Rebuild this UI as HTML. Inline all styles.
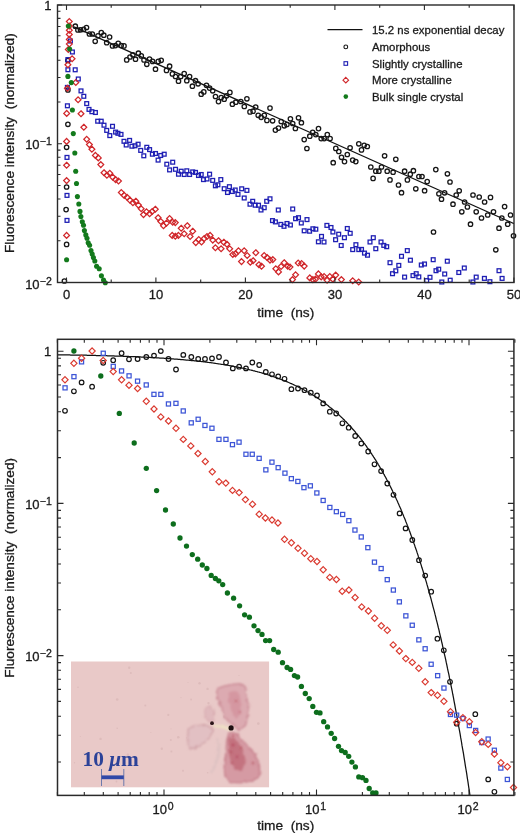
<!DOCTYPE html>
<html><head><meta charset="utf-8"><title>Fluorescence decay</title>
<style>html,body{margin:0;padding:0;background:#fff;}svg{display:block;}</style>
</head><body>
<svg width="520" height="833" viewBox="0 0 520 833">
<defs><clipPath id="ct"><rect x="57.5" y="5.0" width="456.5" height="277.5"/></clipPath>
<clipPath id="cb"><rect x="57.5" y="339.3" width="456.4" height="456.09999999999997"/></clipPath>
<filter id="bl1" x="-20%" y="-20%" width="140%" height="140%"><feGaussianBlur stdDeviation="1.2"/></filter>
<filter id="bl2" x="-20%" y="-20%" width="140%" height="140%"><feGaussianBlur stdDeviation="2.2"/></filter>
<filter id="rag" x="-10%" y="-10%" width="120%" height="120%"><feTurbulence type="fractalNoise" baseFrequency="0.25" numOctaves="2" seed="4" result="n"/><feDisplacementMap in="SourceGraphic" in2="n" scale="3.5" xChannelSelector="R" yChannelSelector="G" result="d"/><feGaussianBlur in="d" stdDeviation="1.1"/></filter>
<filter id="bl05"><feGaussianBlur stdDeviation="0.8"/></filter>
</defs>
<rect width="520" height="833" fill="#fff"/>
<g clip-path="url(#ct)">
<line x1="74" y1="26.9" x2="514" y2="223.6" stroke="#111" stroke-width="1.2"/>
</g><g>
<circle cx="67.9" cy="60.5" r="2.2" fill="none" stroke="#161616" stroke-width="1.3"/>
<circle cx="67.9" cy="90" r="2.2" fill="none" stroke="#161616" stroke-width="1.3"/>
<circle cx="67.9" cy="124.3" r="2.2" fill="none" stroke="#161616" stroke-width="1.3"/>
<circle cx="66.6" cy="147.3" r="2.2" fill="none" stroke="#161616" stroke-width="1.3"/>
<circle cx="66.6" cy="187" r="2.2" fill="none" stroke="#161616" stroke-width="1.3"/>
<circle cx="66.1" cy="209.6" r="2.2" fill="none" stroke="#161616" stroke-width="1.3"/>
<circle cx="66.6" cy="244.4" r="2.2" fill="none" stroke="#161616" stroke-width="1.3"/>
<circle cx="64.4" cy="281" r="2.2" fill="none" stroke="#161616" stroke-width="1.3"/>
<circle cx="75.3" cy="26.2" r="2.2" fill="none" stroke="#161616" stroke-width="1.3"/>
<circle cx="77.9" cy="30" r="2.2" fill="none" stroke="#161616" stroke-width="1.3"/>
<circle cx="80.5" cy="29.8" r="2.2" fill="none" stroke="#161616" stroke-width="1.3"/>
<circle cx="83.6" cy="29.4" r="2.2" fill="none" stroke="#161616" stroke-width="1.3"/>
<circle cx="86.5" cy="27.5" r="2.2" fill="none" stroke="#161616" stroke-width="1.3"/>
<circle cx="89.4" cy="34" r="2.2" fill="none" stroke="#161616" stroke-width="1.3"/>
<circle cx="92.3" cy="34" r="2.2" fill="none" stroke="#161616" stroke-width="1.3"/>
<circle cx="95.2" cy="41.3" r="2.2" fill="none" stroke="#161616" stroke-width="1.3"/>
<circle cx="98" cy="35.8" r="2.2" fill="none" stroke="#161616" stroke-width="1.3"/>
<circle cx="101.3" cy="32.5" r="2.2" fill="none" stroke="#161616" stroke-width="1.3"/>
<circle cx="103.8" cy="35.2" r="2.2" fill="none" stroke="#161616" stroke-width="1.3"/>
<circle cx="106.7" cy="42.7" r="2.2" fill="none" stroke="#161616" stroke-width="1.3"/>
<circle cx="109.6" cy="37" r="2.2" fill="none" stroke="#161616" stroke-width="1.3"/>
<circle cx="112.5" cy="46" r="2.2" fill="none" stroke="#161616" stroke-width="1.3"/>
<circle cx="115.4" cy="45.6" r="2.2" fill="none" stroke="#161616" stroke-width="1.3"/>
<circle cx="118.2" cy="43.3" r="2.2" fill="none" stroke="#161616" stroke-width="1.3"/>
<circle cx="121.2" cy="45.5" r="2.2" fill="none" stroke="#161616" stroke-width="1.3"/>
<circle cx="124" cy="45.9" r="2.2" fill="none" stroke="#161616" stroke-width="1.3"/>
<circle cx="126.7" cy="59.9" r="2.2" fill="none" stroke="#161616" stroke-width="1.3"/>
<circle cx="130" cy="57" r="2.2" fill="none" stroke="#161616" stroke-width="1.3"/>
<circle cx="132.9" cy="54.8" r="2.2" fill="none" stroke="#161616" stroke-width="1.3"/>
<circle cx="135.5" cy="59.2" r="2.2" fill="none" stroke="#161616" stroke-width="1.3"/>
<circle cx="138.4" cy="53.2" r="2.2" fill="none" stroke="#161616" stroke-width="1.3"/>
<circle cx="141.3" cy="55.9" r="2.2" fill="none" stroke="#161616" stroke-width="1.3"/>
<circle cx="144" cy="59.9" r="2.2" fill="none" stroke="#161616" stroke-width="1.3"/>
<circle cx="146.8" cy="64.3" r="2.2" fill="none" stroke="#161616" stroke-width="1.3"/>
<circle cx="149.5" cy="59" r="2.2" fill="none" stroke="#161616" stroke-width="1.3"/>
<circle cx="152.6" cy="61.4" r="2.2" fill="none" stroke="#161616" stroke-width="1.3"/>
<circle cx="155.5" cy="69.2" r="2.2" fill="none" stroke="#161616" stroke-width="1.3"/>
<circle cx="158.3" cy="61.4" r="2.2" fill="none" stroke="#161616" stroke-width="1.3"/>
<circle cx="161.2" cy="60.3" r="2.2" fill="none" stroke="#161616" stroke-width="1.3"/>
<circle cx="166.5" cy="70.4" r="2.2" fill="none" stroke="#161616" stroke-width="1.3"/>
<circle cx="169.6" cy="66.2" r="2.2" fill="none" stroke="#161616" stroke-width="1.3"/>
<circle cx="172.4" cy="73.9" r="2.2" fill="none" stroke="#161616" stroke-width="1.3"/>
<circle cx="175.5" cy="76.5" r="2.2" fill="none" stroke="#161616" stroke-width="1.3"/>
<circle cx="178.5" cy="81.2" r="2.2" fill="none" stroke="#161616" stroke-width="1.3"/>
<circle cx="180.7" cy="76.5" r="2.2" fill="none" stroke="#161616" stroke-width="1.3"/>
<circle cx="184.2" cy="73.5" r="2.2" fill="none" stroke="#161616" stroke-width="1.3"/>
<circle cx="186.8" cy="80.7" r="2.2" fill="none" stroke="#161616" stroke-width="1.3"/>
<circle cx="189.6" cy="76.5" r="2.2" fill="none" stroke="#161616" stroke-width="1.3"/>
<circle cx="192.4" cy="86.2" r="2.2" fill="none" stroke="#161616" stroke-width="1.3"/>
<circle cx="195.5" cy="80.7" r="2.2" fill="none" stroke="#161616" stroke-width="1.3"/>
<circle cx="198.1" cy="83.8" r="2.2" fill="none" stroke="#161616" stroke-width="1.3"/>
<circle cx="201.2" cy="94.2" r="2.2" fill="none" stroke="#161616" stroke-width="1.3"/>
<circle cx="203.8" cy="91.9" r="2.2" fill="none" stroke="#161616" stroke-width="1.3"/>
<circle cx="206.5" cy="85.3" r="2.2" fill="none" stroke="#161616" stroke-width="1.3"/>
<circle cx="209.6" cy="88.1" r="2.2" fill="none" stroke="#161616" stroke-width="1.3"/>
<circle cx="212.7" cy="90.8" r="2.2" fill="none" stroke="#161616" stroke-width="1.3"/>
<circle cx="215.5" cy="96.5" r="2.2" fill="none" stroke="#161616" stroke-width="1.3"/>
<circle cx="218.5" cy="101.6" r="2.2" fill="none" stroke="#161616" stroke-width="1.3"/>
<circle cx="221.2" cy="97.6" r="2.2" fill="none" stroke="#161616" stroke-width="1.3"/>
<circle cx="224.2" cy="99.2" r="2.2" fill="none" stroke="#161616" stroke-width="1.3"/>
<circle cx="226.5" cy="95.8" r="2.2" fill="none" stroke="#161616" stroke-width="1.3"/>
<circle cx="229.9" cy="92.4" r="2.2" fill="none" stroke="#161616" stroke-width="1.3"/>
<circle cx="232.4" cy="104.2" r="2.2" fill="none" stroke="#161616" stroke-width="1.3"/>
<circle cx="235.8" cy="102.2" r="2.2" fill="none" stroke="#161616" stroke-width="1.3"/>
<circle cx="240.8" cy="101.5" r="2.2" fill="none" stroke="#161616" stroke-width="1.3"/>
<circle cx="244.3" cy="106.5" r="2.2" fill="none" stroke="#161616" stroke-width="1.3"/>
<circle cx="246.9" cy="98.8" r="2.2" fill="none" stroke="#161616" stroke-width="1.3"/>
<circle cx="250" cy="111.9" r="2.2" fill="none" stroke="#161616" stroke-width="1.3"/>
<circle cx="253.1" cy="111.2" r="2.2" fill="none" stroke="#161616" stroke-width="1.3"/>
<circle cx="255.7" cy="107" r="2.2" fill="none" stroke="#161616" stroke-width="1.3"/>
<circle cx="258.2" cy="115.3" r="2.2" fill="none" stroke="#161616" stroke-width="1.3"/>
<circle cx="261.2" cy="117.3" r="2.2" fill="none" stroke="#161616" stroke-width="1.3"/>
<circle cx="264.3" cy="115.3" r="2.2" fill="none" stroke="#161616" stroke-width="1.3"/>
<circle cx="266.9" cy="120.4" r="2.2" fill="none" stroke="#161616" stroke-width="1.3"/>
<circle cx="270" cy="108.1" r="2.2" fill="none" stroke="#161616" stroke-width="1.3"/>
<circle cx="272.6" cy="120.8" r="2.2" fill="none" stroke="#161616" stroke-width="1.3"/>
<circle cx="275.4" cy="130.1" r="2.2" fill="none" stroke="#161616" stroke-width="1.3"/>
<circle cx="278.5" cy="128.1" r="2.2" fill="none" stroke="#161616" stroke-width="1.3"/>
<circle cx="281.2" cy="121.5" r="2.2" fill="none" stroke="#161616" stroke-width="1.3"/>
<circle cx="284.3" cy="125.8" r="2.2" fill="none" stroke="#161616" stroke-width="1.3"/>
<circle cx="286.9" cy="124.5" r="2.2" fill="none" stroke="#161616" stroke-width="1.3"/>
<circle cx="290.4" cy="118.8" r="2.2" fill="none" stroke="#161616" stroke-width="1.3"/>
<circle cx="292.7" cy="123.5" r="2.2" fill="none" stroke="#161616" stroke-width="1.3"/>
<circle cx="295.4" cy="128.5" r="2.2" fill="none" stroke="#161616" stroke-width="1.3"/>
<circle cx="298.5" cy="117.8" r="2.2" fill="none" stroke="#161616" stroke-width="1.3"/>
<circle cx="301.4" cy="122.7" r="2.2" fill="none" stroke="#161616" stroke-width="1.3"/>
<circle cx="304.2" cy="139.6" r="2.2" fill="none" stroke="#161616" stroke-width="1.3"/>
<circle cx="306.9" cy="148.5" r="2.2" fill="none" stroke="#161616" stroke-width="1.3"/>
<circle cx="309.8" cy="136.2" r="2.2" fill="none" stroke="#161616" stroke-width="1.3"/>
<circle cx="312.7" cy="132.3" r="2.2" fill="none" stroke="#161616" stroke-width="1.3"/>
<circle cx="315.8" cy="134.6" r="2.2" fill="none" stroke="#161616" stroke-width="1.3"/>
<circle cx="318.5" cy="128.6" r="2.2" fill="none" stroke="#161616" stroke-width="1.3"/>
<circle cx="321.2" cy="138.6" r="2.2" fill="none" stroke="#161616" stroke-width="1.3"/>
<circle cx="324.2" cy="138.6" r="2.2" fill="none" stroke="#161616" stroke-width="1.3"/>
<circle cx="327.3" cy="134.6" r="2.2" fill="none" stroke="#161616" stroke-width="1.3"/>
<circle cx="330.1" cy="138.5" r="2.2" fill="none" stroke="#161616" stroke-width="1.3"/>
<circle cx="333.2" cy="162.7" r="2.2" fill="none" stroke="#161616" stroke-width="1.3"/>
<circle cx="335.8" cy="148.4" r="2.2" fill="none" stroke="#161616" stroke-width="1.3"/>
<circle cx="338.8" cy="151.5" r="2.2" fill="none" stroke="#161616" stroke-width="1.3"/>
<circle cx="341.5" cy="157.3" r="2.2" fill="none" stroke="#161616" stroke-width="1.3"/>
<circle cx="344.5" cy="161.6" r="2.2" fill="none" stroke="#161616" stroke-width="1.3"/>
<circle cx="347.3" cy="154.5" r="2.2" fill="none" stroke="#161616" stroke-width="1.3"/>
<circle cx="350.1" cy="147.8" r="2.2" fill="none" stroke="#161616" stroke-width="1.3"/>
<circle cx="352.7" cy="160.1" r="2.2" fill="none" stroke="#161616" stroke-width="1.3"/>
<circle cx="355.8" cy="161.6" r="2.2" fill="none" stroke="#161616" stroke-width="1.3"/>
<circle cx="358.8" cy="143.8" r="2.2" fill="none" stroke="#161616" stroke-width="1.3"/>
<circle cx="361.5" cy="149.9" r="2.2" fill="none" stroke="#161616" stroke-width="1.3"/>
<circle cx="364.2" cy="145.3" r="2.2" fill="none" stroke="#161616" stroke-width="1.3"/>
<circle cx="367.3" cy="146.5" r="2.2" fill="none" stroke="#161616" stroke-width="1.3"/>
<circle cx="370.8" cy="167" r="2.2" fill="none" stroke="#161616" stroke-width="1.3"/>
<circle cx="373.1" cy="178.4" r="2.2" fill="none" stroke="#161616" stroke-width="1.3"/>
<circle cx="375.8" cy="171.2" r="2.2" fill="none" stroke="#161616" stroke-width="1.3"/>
<circle cx="378.9" cy="171.2" r="2.2" fill="none" stroke="#161616" stroke-width="1.3"/>
<circle cx="381.5" cy="167" r="2.2" fill="none" stroke="#161616" stroke-width="1.3"/>
<circle cx="384.6" cy="155.8" r="2.2" fill="none" stroke="#161616" stroke-width="1.3"/>
<circle cx="387.2" cy="171.2" r="2.2" fill="none" stroke="#161616" stroke-width="1.3"/>
<circle cx="390" cy="179.9" r="2.2" fill="none" stroke="#161616" stroke-width="1.3"/>
<circle cx="393.1" cy="172.2" r="2.2" fill="none" stroke="#161616" stroke-width="1.3"/>
<circle cx="395.8" cy="159.3" r="2.2" fill="none" stroke="#161616" stroke-width="1.3"/>
<circle cx="398.5" cy="185" r="2.2" fill="none" stroke="#161616" stroke-width="1.3"/>
<circle cx="401.5" cy="192.7" r="2.2" fill="none" stroke="#161616" stroke-width="1.3"/>
<circle cx="404.6" cy="171.2" r="2.2" fill="none" stroke="#161616" stroke-width="1.3"/>
<circle cx="407.4" cy="179.9" r="2.2" fill="none" stroke="#161616" stroke-width="1.3"/>
<circle cx="410.3" cy="174.2" r="2.2" fill="none" stroke="#161616" stroke-width="1.3"/>
<circle cx="413.4" cy="170.7" r="2.2" fill="none" stroke="#161616" stroke-width="1.3"/>
<circle cx="415.8" cy="188.8" r="2.2" fill="none" stroke="#161616" stroke-width="1.3"/>
<circle cx="418.9" cy="176.5" r="2.2" fill="none" stroke="#161616" stroke-width="1.3"/>
<circle cx="422" cy="176.5" r="2.2" fill="none" stroke="#161616" stroke-width="1.3"/>
<circle cx="424.6" cy="190.7" r="2.2" fill="none" stroke="#161616" stroke-width="1.3"/>
<circle cx="427.2" cy="181.5" r="2.2" fill="none" stroke="#161616" stroke-width="1.3"/>
<circle cx="433.5" cy="232" r="2.2" fill="none" stroke="#161616" stroke-width="1.3"/>
<circle cx="435.8" cy="169.6" r="2.2" fill="none" stroke="#161616" stroke-width="1.3"/>
<circle cx="438.9" cy="193.8" r="2.2" fill="none" stroke="#161616" stroke-width="1.3"/>
<circle cx="441.5" cy="199.2" r="2.2" fill="none" stroke="#161616" stroke-width="1.3"/>
<circle cx="444.6" cy="192.8" r="2.2" fill="none" stroke="#161616" stroke-width="1.3"/>
<circle cx="447.4" cy="173.8" r="2.2" fill="none" stroke="#161616" stroke-width="1.3"/>
<circle cx="450" cy="182" r="2.2" fill="none" stroke="#161616" stroke-width="1.3"/>
<circle cx="453" cy="204.2" r="2.2" fill="none" stroke="#161616" stroke-width="1.3"/>
<circle cx="456.2" cy="195" r="2.2" fill="none" stroke="#161616" stroke-width="1.3"/>
<circle cx="459.2" cy="190.8" r="2.2" fill="none" stroke="#161616" stroke-width="1.3"/>
<circle cx="461.8" cy="211.8" r="2.2" fill="none" stroke="#161616" stroke-width="1.3"/>
<circle cx="464.6" cy="202" r="2.2" fill="none" stroke="#161616" stroke-width="1.3"/>
<circle cx="467.4" cy="207" r="2.2" fill="none" stroke="#161616" stroke-width="1.3"/>
<circle cx="470.5" cy="224.2" r="2.2" fill="none" stroke="#161616" stroke-width="1.3"/>
<circle cx="473" cy="195" r="2.2" fill="none" stroke="#161616" stroke-width="1.3"/>
<circle cx="476.2" cy="211.8" r="2.2" fill="none" stroke="#161616" stroke-width="1.3"/>
<circle cx="479.2" cy="197" r="2.2" fill="none" stroke="#161616" stroke-width="1.3"/>
<circle cx="481.5" cy="218" r="2.2" fill="none" stroke="#161616" stroke-width="1.3"/>
<circle cx="484.6" cy="202" r="2.2" fill="none" stroke="#161616" stroke-width="1.3"/>
<circle cx="487.7" cy="215" r="2.2" fill="none" stroke="#161616" stroke-width="1.3"/>
<circle cx="490.5" cy="197.4" r="2.2" fill="none" stroke="#161616" stroke-width="1.3"/>
<circle cx="493.5" cy="211.8" r="2.2" fill="none" stroke="#161616" stroke-width="1.3"/>
<circle cx="495.8" cy="249.8" r="2.2" fill="none" stroke="#161616" stroke-width="1.3"/>
<circle cx="499" cy="228.2" r="2.2" fill="none" stroke="#161616" stroke-width="1.3"/>
<circle cx="501.8" cy="218" r="2.2" fill="none" stroke="#161616" stroke-width="1.3"/>
<circle cx="504.6" cy="206.6" r="2.2" fill="none" stroke="#161616" stroke-width="1.3"/>
<circle cx="507.7" cy="224.2" r="2.2" fill="none" stroke="#161616" stroke-width="1.3"/>
<circle cx="510.5" cy="215" r="2.2" fill="none" stroke="#161616" stroke-width="1.3"/>
<circle cx="513.5" cy="235.8" r="2.2" fill="none" stroke="#161616" stroke-width="1.3"/>
<rect x="68.5" y="39.1" width="3.8" height="3.8" fill="none" stroke="#1f1fb4" stroke-width="1.3"/>
<rect x="70.5" y="50.1" width="3.8" height="3.8" fill="none" stroke="#1f1fb4" stroke-width="1.3"/>
<rect x="66" y="57.7" width="3.8" height="3.8" fill="none" stroke="#1f1fb4" stroke-width="1.3"/>
<rect x="66" y="67.8" width="3.8" height="3.8" fill="none" stroke="#1f1fb4" stroke-width="1.3"/>
<rect x="65.5" y="85.5" width="3.8" height="3.8" fill="none" stroke="#1f1fb4" stroke-width="1.3"/>
<rect x="65.5" y="103.9" width="3.8" height="3.8" fill="none" stroke="#1f1fb4" stroke-width="1.3"/>
<rect x="65.1" y="155.5" width="3.8" height="3.8" fill="none" stroke="#1f1fb4" stroke-width="1.3"/>
<rect x="65.1" y="193.5" width="3.8" height="3.8" fill="none" stroke="#1f1fb4" stroke-width="1.3"/>
<rect x="65.1" y="218.5" width="3.8" height="3.8" fill="none" stroke="#1f1fb4" stroke-width="1.3"/>
<rect x="73.3" y="67.9" width="3.8" height="3.8" fill="none" stroke="#1f1fb4" stroke-width="1.3"/>
<rect x="76.4" y="77.1" width="3.8" height="3.8" fill="none" stroke="#1f1fb4" stroke-width="1.3"/>
<rect x="79.1" y="89" width="3.8" height="3.8" fill="none" stroke="#1f1fb4" stroke-width="1.3"/>
<rect x="81.9" y="94.4" width="3.8" height="3.8" fill="none" stroke="#1f1fb4" stroke-width="1.3"/>
<rect x="84.8" y="101.7" width="3.8" height="3.8" fill="none" stroke="#1f1fb4" stroke-width="1.3"/>
<rect x="87.1" y="107.5" width="3.8" height="3.8" fill="none" stroke="#1f1fb4" stroke-width="1.3"/>
<rect x="90" y="109.8" width="3.8" height="3.8" fill="none" stroke="#1f1fb4" stroke-width="1.3"/>
<rect x="93.5" y="110.6" width="3.8" height="3.8" fill="none" stroke="#1f1fb4" stroke-width="1.3"/>
<rect x="95.8" y="119.3" width="3.8" height="3.8" fill="none" stroke="#1f1fb4" stroke-width="1.3"/>
<rect x="99.3" y="119.3" width="3.8" height="3.8" fill="none" stroke="#1f1fb4" stroke-width="1.3"/>
<rect x="102.1" y="123.3" width="3.8" height="3.8" fill="none" stroke="#1f1fb4" stroke-width="1.3"/>
<rect x="104.8" y="128.5" width="3.8" height="3.8" fill="none" stroke="#1f1fb4" stroke-width="1.3"/>
<rect x="107.9" y="133.7" width="3.8" height="3.8" fill="none" stroke="#1f1fb4" stroke-width="1.3"/>
<rect x="110.6" y="124.4" width="3.8" height="3.8" fill="none" stroke="#1f1fb4" stroke-width="1.3"/>
<rect x="113.7" y="130.2" width="3.8" height="3.8" fill="none" stroke="#1f1fb4" stroke-width="1.3"/>
<rect x="116" y="131.4" width="3.8" height="3.8" fill="none" stroke="#1f1fb4" stroke-width="1.3"/>
<rect x="119.1" y="132.5" width="3.8" height="3.8" fill="none" stroke="#1f1fb4" stroke-width="1.3"/>
<rect x="122.1" y="139.4" width="3.8" height="3.8" fill="none" stroke="#1f1fb4" stroke-width="1.3"/>
<rect x="124.3" y="143.1" width="3.8" height="3.8" fill="none" stroke="#1f1fb4" stroke-width="1.3"/>
<rect x="127.7" y="138.5" width="3.8" height="3.8" fill="none" stroke="#1f1fb4" stroke-width="1.3"/>
<rect x="130" y="144.3" width="3.8" height="3.8" fill="none" stroke="#1f1fb4" stroke-width="1.3"/>
<rect x="133.1" y="143.9" width="3.8" height="3.8" fill="none" stroke="#1f1fb4" stroke-width="1.3"/>
<rect x="136.2" y="142.3" width="3.8" height="3.8" fill="none" stroke="#1f1fb4" stroke-width="1.3"/>
<rect x="138.8" y="148.5" width="3.8" height="3.8" fill="none" stroke="#1f1fb4" stroke-width="1.3"/>
<rect x="141.9" y="153.9" width="3.8" height="3.8" fill="none" stroke="#1f1fb4" stroke-width="1.3"/>
<rect x="144.9" y="145.4" width="3.8" height="3.8" fill="none" stroke="#1f1fb4" stroke-width="1.3"/>
<rect x="147.7" y="147.7" width="3.8" height="3.8" fill="none" stroke="#1f1fb4" stroke-width="1.3"/>
<rect x="150.5" y="152.3" width="3.8" height="3.8" fill="none" stroke="#1f1fb4" stroke-width="1.3"/>
<rect x="153.6" y="151.6" width="3.8" height="3.8" fill="none" stroke="#1f1fb4" stroke-width="1.3"/>
<rect x="156.2" y="158.2" width="3.8" height="3.8" fill="none" stroke="#1f1fb4" stroke-width="1.3"/>
<rect x="158.8" y="153.6" width="3.8" height="3.8" fill="none" stroke="#1f1fb4" stroke-width="1.3"/>
<rect x="162.3" y="152.3" width="3.8" height="3.8" fill="none" stroke="#1f1fb4" stroke-width="1.3"/>
<rect x="164.9" y="162.3" width="3.8" height="3.8" fill="none" stroke="#1f1fb4" stroke-width="1.3"/>
<rect x="167.7" y="168" width="3.8" height="3.8" fill="none" stroke="#1f1fb4" stroke-width="1.3"/>
<rect x="170.8" y="160.3" width="3.8" height="3.8" fill="none" stroke="#1f1fb4" stroke-width="1.3"/>
<rect x="173.6" y="167.4" width="3.8" height="3.8" fill="none" stroke="#1f1fb4" stroke-width="1.3"/>
<rect x="176.6" y="172.3" width="3.8" height="3.8" fill="none" stroke="#1f1fb4" stroke-width="1.3"/>
<rect x="179.3" y="169.3" width="3.8" height="3.8" fill="none" stroke="#1f1fb4" stroke-width="1.3"/>
<rect x="182.3" y="172.6" width="3.8" height="3.8" fill="none" stroke="#1f1fb4" stroke-width="1.3"/>
<rect x="184.9" y="168.9" width="3.8" height="3.8" fill="none" stroke="#1f1fb4" stroke-width="1.3"/>
<rect x="187.7" y="172.6" width="3.8" height="3.8" fill="none" stroke="#1f1fb4" stroke-width="1.3"/>
<rect x="190.8" y="170" width="3.8" height="3.8" fill="none" stroke="#1f1fb4" stroke-width="1.3"/>
<rect x="193.6" y="170.5" width="3.8" height="3.8" fill="none" stroke="#1f1fb4" stroke-width="1.3"/>
<rect x="196.6" y="173.6" width="3.8" height="3.8" fill="none" stroke="#1f1fb4" stroke-width="1.3"/>
<rect x="199.3" y="172.6" width="3.8" height="3.8" fill="none" stroke="#1f1fb4" stroke-width="1.3"/>
<rect x="201.6" y="177.7" width="3.8" height="3.8" fill="none" stroke="#1f1fb4" stroke-width="1.3"/>
<rect x="205.1" y="177.1" width="3.8" height="3.8" fill="none" stroke="#1f1fb4" stroke-width="1.3"/>
<rect x="207.7" y="172.3" width="3.8" height="3.8" fill="none" stroke="#1f1fb4" stroke-width="1.3"/>
<rect x="210.8" y="178.5" width="3.8" height="3.8" fill="none" stroke="#1f1fb4" stroke-width="1.3"/>
<rect x="213.5" y="183.9" width="3.8" height="3.8" fill="none" stroke="#1f1fb4" stroke-width="1.3"/>
<rect x="216" y="182.9" width="3.8" height="3.8" fill="none" stroke="#1f1fb4" stroke-width="1.3"/>
<rect x="218.9" y="177.7" width="3.8" height="3.8" fill="none" stroke="#1f1fb4" stroke-width="1.3"/>
<rect x="222.3" y="186.8" width="3.8" height="3.8" fill="none" stroke="#1f1fb4" stroke-width="1.3"/>
<rect x="225.6" y="190.6" width="3.8" height="3.8" fill="none" stroke="#1f1fb4" stroke-width="1.3"/>
<rect x="227.5" y="184.8" width="3.8" height="3.8" fill="none" stroke="#1f1fb4" stroke-width="1.3"/>
<rect x="230.4" y="189.6" width="3.8" height="3.8" fill="none" stroke="#1f1fb4" stroke-width="1.3"/>
<rect x="233.3" y="188.1" width="3.8" height="3.8" fill="none" stroke="#1f1fb4" stroke-width="1.3"/>
<rect x="236.1" y="192.5" width="3.8" height="3.8" fill="none" stroke="#1f1fb4" stroke-width="1.3"/>
<rect x="239.8" y="186.9" width="3.8" height="3.8" fill="none" stroke="#1f1fb4" stroke-width="1.3"/>
<rect x="242.3" y="196.1" width="3.8" height="3.8" fill="none" stroke="#1f1fb4" stroke-width="1.3"/>
<rect x="245" y="188.5" width="3.8" height="3.8" fill="none" stroke="#1f1fb4" stroke-width="1.3"/>
<rect x="248.1" y="202.3" width="3.8" height="3.8" fill="none" stroke="#1f1fb4" stroke-width="1.3"/>
<rect x="250.8" y="199.4" width="3.8" height="3.8" fill="none" stroke="#1f1fb4" stroke-width="1.3"/>
<rect x="253.3" y="203.3" width="3.8" height="3.8" fill="none" stroke="#1f1fb4" stroke-width="1.3"/>
<rect x="256.6" y="203.3" width="3.8" height="3.8" fill="none" stroke="#1f1fb4" stroke-width="1.3"/>
<rect x="259.1" y="208.1" width="3.8" height="3.8" fill="none" stroke="#1f1fb4" stroke-width="1.3"/>
<rect x="262.3" y="205.8" width="3.8" height="3.8" fill="none" stroke="#1f1fb4" stroke-width="1.3"/>
<rect x="264.8" y="199.4" width="3.8" height="3.8" fill="none" stroke="#1f1fb4" stroke-width="1.3"/>
<rect x="268.1" y="196.9" width="3.8" height="3.8" fill="none" stroke="#1f1fb4" stroke-width="1.3"/>
<rect x="270.6" y="218.7" width="3.8" height="3.8" fill="none" stroke="#1f1fb4" stroke-width="1.3"/>
<rect x="273.5" y="220" width="3.8" height="3.8" fill="none" stroke="#1f1fb4" stroke-width="1.3"/>
<rect x="276.4" y="208.1" width="3.8" height="3.8" fill="none" stroke="#1f1fb4" stroke-width="1.3"/>
<rect x="278.9" y="222.5" width="3.8" height="3.8" fill="none" stroke="#1f1fb4" stroke-width="1.3"/>
<rect x="282.1" y="224.4" width="3.8" height="3.8" fill="none" stroke="#1f1fb4" stroke-width="1.3"/>
<rect x="285.1" y="221.6" width="3.8" height="3.8" fill="none" stroke="#1f1fb4" stroke-width="1.3"/>
<rect x="288.5" y="223.1" width="3.8" height="3.8" fill="none" stroke="#1f1fb4" stroke-width="1.3"/>
<rect x="290.8" y="207.1" width="3.8" height="3.8" fill="none" stroke="#1f1fb4" stroke-width="1.3"/>
<rect x="293.7" y="216.8" width="3.8" height="3.8" fill="none" stroke="#1f1fb4" stroke-width="1.3"/>
<rect x="296.6" y="215.8" width="3.8" height="3.8" fill="none" stroke="#1f1fb4" stroke-width="1.3"/>
<rect x="299.4" y="221.1" width="3.8" height="3.8" fill="none" stroke="#1f1fb4" stroke-width="1.3"/>
<rect x="302.3" y="228.9" width="3.8" height="3.8" fill="none" stroke="#1f1fb4" stroke-width="1.3"/>
<rect x="305.1" y="217.7" width="3.8" height="3.8" fill="none" stroke="#1f1fb4" stroke-width="1.3"/>
<rect x="307.7" y="229.3" width="3.8" height="3.8" fill="none" stroke="#1f1fb4" stroke-width="1.3"/>
<rect x="311" y="226.9" width="3.8" height="3.8" fill="none" stroke="#1f1fb4" stroke-width="1.3"/>
<rect x="313.9" y="227.3" width="3.8" height="3.8" fill="none" stroke="#1f1fb4" stroke-width="1.3"/>
<rect x="316.5" y="239.9" width="3.8" height="3.8" fill="none" stroke="#1f1fb4" stroke-width="1.3"/>
<rect x="319.6" y="234.5" width="3.8" height="3.8" fill="none" stroke="#1f1fb4" stroke-width="1.3"/>
<rect x="322.1" y="240.1" width="3.8" height="3.8" fill="none" stroke="#1f1fb4" stroke-width="1.3"/>
<rect x="325" y="223.5" width="3.8" height="3.8" fill="none" stroke="#1f1fb4" stroke-width="1.3"/>
<rect x="329.1" y="225.6" width="3.8" height="3.8" fill="none" stroke="#1f1fb4" stroke-width="1.3"/>
<rect x="331" y="230.1" width="3.8" height="3.8" fill="none" stroke="#1f1fb4" stroke-width="1.3"/>
<rect x="333.7" y="237.8" width="3.8" height="3.8" fill="none" stroke="#1f1fb4" stroke-width="1.3"/>
<rect x="336.8" y="232.3" width="3.8" height="3.8" fill="none" stroke="#1f1fb4" stroke-width="1.3"/>
<rect x="339.3" y="243.6" width="3.8" height="3.8" fill="none" stroke="#1f1fb4" stroke-width="1.3"/>
<rect x="342.5" y="235.8" width="3.8" height="3.8" fill="none" stroke="#1f1fb4" stroke-width="1.3"/>
<rect x="345.4" y="226.6" width="3.8" height="3.8" fill="none" stroke="#1f1fb4" stroke-width="1.3"/>
<rect x="348.3" y="231.4" width="3.8" height="3.8" fill="none" stroke="#1f1fb4" stroke-width="1.3"/>
<rect x="350.8" y="247.7" width="3.8" height="3.8" fill="none" stroke="#1f1fb4" stroke-width="1.3"/>
<rect x="354" y="242.8" width="3.8" height="3.8" fill="none" stroke="#1f1fb4" stroke-width="1.3"/>
<rect x="356.9" y="247.7" width="3.8" height="3.8" fill="none" stroke="#1f1fb4" stroke-width="1.3"/>
<rect x="359.6" y="247.5" width="3.8" height="3.8" fill="none" stroke="#1f1fb4" stroke-width="1.3"/>
<rect x="362.6" y="251.2" width="3.8" height="3.8" fill="none" stroke="#1f1fb4" stroke-width="1.3"/>
<rect x="365.6" y="253.3" width="3.8" height="3.8" fill="none" stroke="#1f1fb4" stroke-width="1.3"/>
<rect x="368.1" y="240.1" width="3.8" height="3.8" fill="none" stroke="#1f1fb4" stroke-width="1.3"/>
<rect x="371.4" y="235.8" width="3.8" height="3.8" fill="none" stroke="#1f1fb4" stroke-width="1.3"/>
<rect x="373.9" y="246.8" width="3.8" height="3.8" fill="none" stroke="#1f1fb4" stroke-width="1.3"/>
<rect x="379.1" y="240.1" width="3.8" height="3.8" fill="none" stroke="#1f1fb4" stroke-width="1.3"/>
<rect x="381.9" y="243.5" width="3.8" height="3.8" fill="none" stroke="#1f1fb4" stroke-width="1.3"/>
<rect x="384.8" y="244.8" width="3.8" height="3.8" fill="none" stroke="#1f1fb4" stroke-width="1.3"/>
<rect x="388.1" y="260.8" width="3.8" height="3.8" fill="none" stroke="#1f1fb4" stroke-width="1.3"/>
<rect x="390.6" y="271.8" width="3.8" height="3.8" fill="none" stroke="#1f1fb4" stroke-width="1.3"/>
<rect x="393.9" y="268.9" width="3.8" height="3.8" fill="none" stroke="#1f1fb4" stroke-width="1.3"/>
<rect x="396.9" y="263.5" width="3.8" height="3.8" fill="none" stroke="#1f1fb4" stroke-width="1.3"/>
<rect x="399.6" y="254.4" width="3.8" height="3.8" fill="none" stroke="#1f1fb4" stroke-width="1.3"/>
<rect x="402.7" y="275.2" width="3.8" height="3.8" fill="none" stroke="#1f1fb4" stroke-width="1.3"/>
<rect x="405.4" y="248.7" width="3.8" height="3.8" fill="none" stroke="#1f1fb4" stroke-width="1.3"/>
<rect x="408.5" y="258.3" width="3.8" height="3.8" fill="none" stroke="#1f1fb4" stroke-width="1.3"/>
<rect x="411.1" y="273.7" width="3.8" height="3.8" fill="none" stroke="#1f1fb4" stroke-width="1.3"/>
<rect x="414.3" y="271.8" width="3.8" height="3.8" fill="none" stroke="#1f1fb4" stroke-width="1.3"/>
<rect x="416.9" y="275" width="3.8" height="3.8" fill="none" stroke="#1f1fb4" stroke-width="1.3"/>
<rect x="419.4" y="263.1" width="3.8" height="3.8" fill="none" stroke="#1f1fb4" stroke-width="1.3"/>
<rect x="422.6" y="262.1" width="3.8" height="3.8" fill="none" stroke="#1f1fb4" stroke-width="1.3"/>
<rect x="424.8" y="278.7" width="3.8" height="3.8" fill="none" stroke="#1f1fb4" stroke-width="1.3"/>
<rect x="428.1" y="275.4" width="3.8" height="3.8" fill="none" stroke="#1f1fb4" stroke-width="1.3"/>
<rect x="431.3" y="257.8" width="3.8" height="3.8" fill="none" stroke="#1f1fb4" stroke-width="1.3"/>
<rect x="434.1" y="268.8" width="3.8" height="3.8" fill="none" stroke="#1f1fb4" stroke-width="1.3"/>
<rect x="436.8" y="267.3" width="3.8" height="3.8" fill="none" stroke="#1f1fb4" stroke-width="1.3"/>
<rect x="439.9" y="280.1" width="3.8" height="3.8" fill="none" stroke="#1f1fb4" stroke-width="1.3"/>
<rect x="442.8" y="272.1" width="3.8" height="3.8" fill="none" stroke="#1f1fb4" stroke-width="1.3"/>
<rect x="445.4" y="259.3" width="3.8" height="3.8" fill="none" stroke="#1f1fb4" stroke-width="1.3"/>
<rect x="448.3" y="278.3" width="3.8" height="3.8" fill="none" stroke="#1f1fb4" stroke-width="1.3"/>
<rect x="456.9" y="270.6" width="3.8" height="3.8" fill="none" stroke="#1f1fb4" stroke-width="1.3"/>
<rect x="462.4" y="266.1" width="3.8" height="3.8" fill="none" stroke="#1f1fb4" stroke-width="1.3"/>
<rect x="471" y="280.1" width="3.8" height="3.8" fill="none" stroke="#1f1fb4" stroke-width="1.3"/>
<rect x="474.3" y="275.2" width="3.8" height="3.8" fill="none" stroke="#1f1fb4" stroke-width="1.3"/>
<rect x="482.5" y="276.5" width="3.8" height="3.8" fill="none" stroke="#1f1fb4" stroke-width="1.3"/>
<rect x="488" y="279.8" width="3.8" height="3.8" fill="none" stroke="#1f1fb4" stroke-width="1.3"/>
<rect x="497.1" y="268.8" width="3.8" height="3.8" fill="none" stroke="#1f1fb4" stroke-width="1.3"/>
<rect x="500.2" y="276.5" width="3.8" height="3.8" fill="none" stroke="#1f1fb4" stroke-width="1.3"/>
<path d="M69.3 18.6l2.9 2.9l-2.9 2.9l-2.9 -2.9z" fill="none" stroke="#d0262a" stroke-width="1.25"/>
<path d="M69.3 23.1l2.9 2.9l-2.9 2.9l-2.9 -2.9z" fill="none" stroke="#d0262a" stroke-width="1.25"/>
<path d="M69.3 27.3l2.9 2.9l-2.9 2.9l-2.9 -2.9z" fill="none" stroke="#d0262a" stroke-width="1.25"/>
<path d="M69.3 31.5l2.9 2.9l-2.9 2.9l-2.9 -2.9z" fill="none" stroke="#d0262a" stroke-width="1.25"/>
<path d="M69.3 36.5l2.9 2.9l-2.9 2.9l-2.9 -2.9z" fill="none" stroke="#d0262a" stroke-width="1.25"/>
<path d="M69.3 41.1l2.9 2.9l-2.9 2.9l-2.9 -2.9z" fill="none" stroke="#d0262a" stroke-width="1.25"/>
<path d="M68.3 46.6l2.9 2.9l-2.9 2.9l-2.9 -2.9z" fill="none" stroke="#d0262a" stroke-width="1.25"/>
<path d="M67.9 61.8l2.9 2.9l-2.9 2.9l-2.9 -2.9z" fill="none" stroke="#d0262a" stroke-width="1.25"/>
<path d="M67.4 85.3l2.9 2.9l-2.9 2.9l-2.9 -2.9z" fill="none" stroke="#d0262a" stroke-width="1.25"/>
<path d="M66.7 110.5l2.9 2.9l-2.9 2.9l-2.9 -2.9z" fill="none" stroke="#d0262a" stroke-width="1.25"/>
<path d="M66.6 138.5l2.9 2.9l-2.9 2.9l-2.9 -2.9z" fill="none" stroke="#d0262a" stroke-width="1.25"/>
<path d="M66.6 162.3l2.9 2.9l-2.9 2.9l-2.9 -2.9z" fill="none" stroke="#d0262a" stroke-width="1.25"/>
<path d="M66.6 177.7l2.9 2.9l-2.9 2.9l-2.9 -2.9z" fill="none" stroke="#d0262a" stroke-width="1.25"/>
<path d="M66.6 232.5l2.9 2.9l-2.9 2.9l-2.9 -2.9z" fill="none" stroke="#d0262a" stroke-width="1.25"/>
<path d="M72.1 55.9l2.9 2.9l-2.9 2.9l-2.9 -2.9z" fill="none" stroke="#d0262a" stroke-width="1.25"/>
<path d="M75.8 79.6l2.9 2.9l-2.9 2.9l-2.9 -2.9z" fill="none" stroke="#d0262a" stroke-width="1.25"/>
<path d="M78.1 96.9l2.9 2.9l-2.9 2.9l-2.9 -2.9z" fill="none" stroke="#d0262a" stroke-width="1.25"/>
<path d="M81 110.8l2.9 2.9l-2.9 2.9l-2.9 -2.9z" fill="none" stroke="#d0262a" stroke-width="1.25"/>
<path d="M83.8 124.3l2.9 2.9l-2.9 2.9l-2.9 -2.9z" fill="none" stroke="#d0262a" stroke-width="1.25"/>
<path d="M86.7 136.4l2.9 2.9l-2.9 2.9l-2.9 -2.9z" fill="none" stroke="#d0262a" stroke-width="1.25"/>
<path d="M89.4 141.7l2.9 2.9l-2.9 2.9l-2.9 -2.9z" fill="none" stroke="#d0262a" stroke-width="1.25"/>
<path d="M91.9 146.3l2.9 2.9l-2.9 2.9l-2.9 -2.9z" fill="none" stroke="#d0262a" stroke-width="1.25"/>
<path d="M95.4 152.5l2.9 2.9l-2.9 2.9l-2.9 -2.9z" fill="none" stroke="#d0262a" stroke-width="1.25"/>
<path d="M98.3 155l2.9 2.9l-2.9 2.9l-2.9 -2.9z" fill="none" stroke="#d0262a" stroke-width="1.25"/>
<path d="M100.8 161.7l2.9 2.9l-2.9 2.9l-2.9 -2.9z" fill="none" stroke="#d0262a" stroke-width="1.25"/>
<path d="M104 169.8l2.9 2.9l-2.9 2.9l-2.9 -2.9z" fill="none" stroke="#d0262a" stroke-width="1.25"/>
<path d="M106.9 172.3l2.9 2.9l-2.9 2.9l-2.9 -2.9z" fill="none" stroke="#d0262a" stroke-width="1.25"/>
<path d="M109.8 170.4l2.9 2.9l-2.9 2.9l-2.9 -2.9z" fill="none" stroke="#d0262a" stroke-width="1.25"/>
<path d="M112.7 174.2l2.9 2.9l-2.9 2.9l-2.9 -2.9z" fill="none" stroke="#d0262a" stroke-width="1.25"/>
<path d="M115.6 176.7l2.9 2.9l-2.9 2.9l-2.9 -2.9z" fill="none" stroke="#d0262a" stroke-width="1.25"/>
<path d="M118.5 178.1l2.9 2.9l-2.9 2.9l-2.9 -2.9z" fill="none" stroke="#d0262a" stroke-width="1.25"/>
<path d="M121.3 189.6l2.9 2.9l-2.9 2.9l-2.9 -2.9z" fill="none" stroke="#d0262a" stroke-width="1.25"/>
<path d="M124.2 192.5l2.9 2.9l-2.9 2.9l-2.9 -2.9z" fill="none" stroke="#d0262a" stroke-width="1.25"/>
<path d="M127.1 194.4l2.9 2.9l-2.9 2.9l-2.9 -2.9z" fill="none" stroke="#d0262a" stroke-width="1.25"/>
<path d="M130 197.3l2.9 2.9l-2.9 2.9l-2.9 -2.9z" fill="none" stroke="#d0262a" stroke-width="1.25"/>
<path d="M132.9 199.8l2.9 2.9l-2.9 2.9l-2.9 -2.9z" fill="none" stroke="#d0262a" stroke-width="1.25"/>
<path d="M135.8 198.3l2.9 2.9l-2.9 2.9l-2.9 -2.9z" fill="none" stroke="#d0262a" stroke-width="1.25"/>
<path d="M138.4 202.2l2.9 2.9l-2.9 2.9l-2.9 -2.9z" fill="none" stroke="#d0262a" stroke-width="1.25"/>
<path d="M141.2 205.9l2.9 2.9l-2.9 2.9l-2.9 -2.9z" fill="none" stroke="#d0262a" stroke-width="1.25"/>
<path d="M143.5 211.7l2.9 2.9l-2.9 2.9l-2.9 -2.9z" fill="none" stroke="#d0262a" stroke-width="1.25"/>
<path d="M146.5 208.9l2.9 2.9l-2.9 2.9l-2.9 -2.9z" fill="none" stroke="#d0262a" stroke-width="1.25"/>
<path d="M149.6 210.9l2.9 2.9l-2.9 2.9l-2.9 -2.9z" fill="none" stroke="#d0262a" stroke-width="1.25"/>
<path d="M152.2 208.6l2.9 2.9l-2.9 2.9l-2.9 -2.9z" fill="none" stroke="#d0262a" stroke-width="1.25"/>
<path d="M155.3 206.3l2.9 2.9l-2.9 2.9l-2.9 -2.9z" fill="none" stroke="#d0262a" stroke-width="1.25"/>
<path d="M158.1 214.8l2.9 2.9l-2.9 2.9l-2.9 -2.9z" fill="none" stroke="#d0262a" stroke-width="1.25"/>
<path d="M160.8 218.6l2.9 2.9l-2.9 2.9l-2.9 -2.9z" fill="none" stroke="#d0262a" stroke-width="1.25"/>
<path d="M163.5 222.8l2.9 2.9l-2.9 2.9l-2.9 -2.9z" fill="none" stroke="#d0262a" stroke-width="1.25"/>
<path d="M166.5 220.2l2.9 2.9l-2.9 2.9l-2.9 -2.9z" fill="none" stroke="#d0262a" stroke-width="1.25"/>
<path d="M169.6 215.6l2.9 2.9l-2.9 2.9l-2.9 -2.9z" fill="none" stroke="#d0262a" stroke-width="1.25"/>
<path d="M172.7 219.4l2.9 2.9l-2.9 2.9l-2.9 -2.9z" fill="none" stroke="#d0262a" stroke-width="1.25"/>
<path d="M175.3 219.7l2.9 2.9l-2.9 2.9l-2.9 -2.9z" fill="none" stroke="#d0262a" stroke-width="1.25"/>
<path d="M172.2 232.5l2.9 2.9l-2.9 2.9l-2.9 -2.9z" fill="none" stroke="#d0262a" stroke-width="1.25"/>
<path d="M175.3 233.3l2.9 2.9l-2.9 2.9l-2.9 -2.9z" fill="none" stroke="#d0262a" stroke-width="1.25"/>
<path d="M178.4 232.5l2.9 2.9l-2.9 2.9l-2.9 -2.9z" fill="none" stroke="#d0262a" stroke-width="1.25"/>
<path d="M181.2 225.3l2.9 2.9l-2.9 2.9l-2.9 -2.9z" fill="none" stroke="#d0262a" stroke-width="1.25"/>
<path d="M184.2 230.9l2.9 2.9l-2.9 2.9l-2.9 -2.9z" fill="none" stroke="#d0262a" stroke-width="1.25"/>
<path d="M187.3 222.8l2.9 2.9l-2.9 2.9l-2.9 -2.9z" fill="none" stroke="#d0262a" stroke-width="1.25"/>
<path d="M190.1 233.6l2.9 2.9l-2.9 2.9l-2.9 -2.9z" fill="none" stroke="#d0262a" stroke-width="1.25"/>
<path d="M192.7 228.3l2.9 2.9l-2.9 2.9l-2.9 -2.9z" fill="none" stroke="#d0262a" stroke-width="1.25"/>
<path d="M195.8 239.7l2.9 2.9l-2.9 2.9l-2.9 -2.9z" fill="none" stroke="#d0262a" stroke-width="1.25"/>
<path d="M198.8 236.6l2.9 2.9l-2.9 2.9l-2.9 -2.9z" fill="none" stroke="#d0262a" stroke-width="1.25"/>
<path d="M201.5 239.1l2.9 2.9l-2.9 2.9l-2.9 -2.9z" fill="none" stroke="#d0262a" stroke-width="1.25"/>
<path d="M204.2 235.6l2.9 2.9l-2.9 2.9l-2.9 -2.9z" fill="none" stroke="#d0262a" stroke-width="1.25"/>
<path d="M207 233.6l2.9 2.9l-2.9 2.9l-2.9 -2.9z" fill="none" stroke="#d0262a" stroke-width="1.25"/>
<path d="M210.1 232.5l2.9 2.9l-2.9 2.9l-2.9 -2.9z" fill="none" stroke="#d0262a" stroke-width="1.25"/>
<path d="M212.8 237.2l2.9 2.9l-2.9 2.9l-2.9 -2.9z" fill="none" stroke="#d0262a" stroke-width="1.25"/>
<path d="M215.4 244.9l2.9 2.9l-2.9 2.9l-2.9 -2.9z" fill="none" stroke="#d0262a" stroke-width="1.25"/>
<path d="M218.5 237.8l2.9 2.9l-2.9 2.9l-2.9 -2.9z" fill="none" stroke="#d0262a" stroke-width="1.25"/>
<path d="M221.1 245.9l2.9 2.9l-2.9 2.9l-2.9 -2.9z" fill="none" stroke="#d0262a" stroke-width="1.25"/>
<path d="M223.8 239.3l2.9 2.9l-2.9 2.9l-2.9 -2.9z" fill="none" stroke="#d0262a" stroke-width="1.25"/>
<path d="M226.9 241.3l2.9 2.9l-2.9 2.9l-2.9 -2.9z" fill="none" stroke="#d0262a" stroke-width="1.25"/>
<path d="M229.7 245.9l2.9 2.9l-2.9 2.9l-2.9 -2.9z" fill="none" stroke="#d0262a" stroke-width="1.25"/>
<path d="M232.8 251.6l2.9 2.9l-2.9 2.9l-2.9 -2.9z" fill="none" stroke="#d0262a" stroke-width="1.25"/>
<path d="M235.4 251l2.9 2.9l-2.9 2.9l-2.9 -2.9z" fill="none" stroke="#d0262a" stroke-width="1.25"/>
<path d="M238.5 247.9l2.9 2.9l-2.9 2.9l-2.9 -2.9z" fill="none" stroke="#d0262a" stroke-width="1.25"/>
<path d="M241.5 258.7l2.9 2.9l-2.9 2.9l-2.9 -2.9z" fill="none" stroke="#d0262a" stroke-width="1.25"/>
<path d="M244.2 247.9l2.9 2.9l-2.9 2.9l-2.9 -2.9z" fill="none" stroke="#d0262a" stroke-width="1.25"/>
<path d="M247.2 252.6l2.9 2.9l-2.9 2.9l-2.9 -2.9z" fill="none" stroke="#d0262a" stroke-width="1.25"/>
<path d="M250.3 259.3l2.9 2.9l-2.9 2.9l-2.9 -2.9z" fill="none" stroke="#d0262a" stroke-width="1.25"/>
<path d="M253.1 257.8l2.9 2.9l-2.9 2.9l-2.9 -2.9z" fill="none" stroke="#d0262a" stroke-width="1.25"/>
<path d="M255.8 249.8l2.9 2.9l-2.9 2.9l-2.9 -2.9z" fill="none" stroke="#d0262a" stroke-width="1.25"/>
<path d="M258.9 261.8l2.9 2.9l-2.9 2.9l-2.9 -2.9z" fill="none" stroke="#d0262a" stroke-width="1.25"/>
<path d="M261.5 263.3l2.9 2.9l-2.9 2.9l-2.9 -2.9z" fill="none" stroke="#d0262a" stroke-width="1.25"/>
<path d="M264.2 252.6l2.9 2.9l-2.9 2.9l-2.9 -2.9z" fill="none" stroke="#d0262a" stroke-width="1.25"/>
<path d="M267.2 254.7l2.9 2.9l-2.9 2.9l-2.9 -2.9z" fill="none" stroke="#d0262a" stroke-width="1.25"/>
<path d="M270 257.2l2.9 2.9l-2.9 2.9l-2.9 -2.9z" fill="none" stroke="#d0262a" stroke-width="1.25"/>
<path d="M272.8 256.7l2.9 2.9l-2.9 2.9l-2.9 -2.9z" fill="none" stroke="#d0262a" stroke-width="1.25"/>
<path d="M275.8 265.9l2.9 2.9l-2.9 2.9l-2.9 -2.9z" fill="none" stroke="#d0262a" stroke-width="1.25"/>
<path d="M278.5 269l2.9 2.9l-2.9 2.9l-2.9 -2.9z" fill="none" stroke="#d0262a" stroke-width="1.25"/>
<path d="M281.1 263.6l2.9 2.9l-2.9 2.9l-2.9 -2.9z" fill="none" stroke="#d0262a" stroke-width="1.25"/>
<path d="M284.2 259.8l2.9 2.9l-2.9 2.9l-2.9 -2.9z" fill="none" stroke="#d0262a" stroke-width="1.25"/>
<path d="M287.7 263.3l2.9 2.9l-2.9 2.9l-2.9 -2.9z" fill="none" stroke="#d0262a" stroke-width="1.25"/>
<path d="M290 264.1l2.9 2.9l-2.9 2.9l-2.9 -2.9z" fill="none" stroke="#d0262a" stroke-width="1.25"/>
<path d="M292.5 276.7l2.9 2.9l-2.9 2.9l-2.9 -2.9z" fill="none" stroke="#d0262a" stroke-width="1.25"/>
<path d="M295.6 271.9l2.9 2.9l-2.9 2.9l-2.9 -2.9z" fill="none" stroke="#d0262a" stroke-width="1.25"/>
<path d="M298.2 260.1l2.9 2.9l-2.9 2.9l-2.9 -2.9z" fill="none" stroke="#d0262a" stroke-width="1.25"/>
<path d="M301.6 260.6l2.9 2.9l-2.9 2.9l-2.9 -2.9z" fill="none" stroke="#d0262a" stroke-width="1.25"/>
<path d="M304.2 263.2l2.9 2.9l-2.9 2.9l-2.9 -2.9z" fill="none" stroke="#d0262a" stroke-width="1.25"/>
<path d="M309.8 275l2.9 2.9l-2.9 2.9l-2.9 -2.9z" fill="none" stroke="#d0262a" stroke-width="1.25"/>
<path d="M312.9 276.7l2.9 2.9l-2.9 2.9l-2.9 -2.9z" fill="none" stroke="#d0262a" stroke-width="1.25"/>
<path d="M315.5 276.2l2.9 2.9l-2.9 2.9l-2.9 -2.9z" fill="none" stroke="#d0262a" stroke-width="1.25"/>
<path d="M318.4 271l2.9 2.9l-2.9 2.9l-2.9 -2.9z" fill="none" stroke="#d0262a" stroke-width="1.25"/>
<path d="M321.2 274l2.9 2.9l-2.9 2.9l-2.9 -2.9z" fill="none" stroke="#d0262a" stroke-width="1.25"/>
<path d="M324.1 273.6l2.9 2.9l-2.9 2.9l-2.9 -2.9z" fill="none" stroke="#d0262a" stroke-width="1.25"/>
<path d="M327.1 277.4l2.9 2.9l-2.9 2.9l-2.9 -2.9z" fill="none" stroke="#d0262a" stroke-width="1.25"/>
<path d="M329.8 273.6l2.9 2.9l-2.9 2.9l-2.9 -2.9z" fill="none" stroke="#d0262a" stroke-width="1.25"/>
<path d="M332.8 276.2l2.9 2.9l-2.9 2.9l-2.9 -2.9z" fill="none" stroke="#d0262a" stroke-width="1.25"/>
<path d="M335.7 272.2l2.9 2.9l-2.9 2.9l-2.9 -2.9z" fill="none" stroke="#d0262a" stroke-width="1.25"/>
<path d="M341.4 276.7l2.9 2.9l-2.9 2.9l-2.9 -2.9z" fill="none" stroke="#d0262a" stroke-width="1.25"/>
<path d="M352.7 277.9l2.9 2.9l-2.9 2.9l-2.9 -2.9z" fill="none" stroke="#d0262a" stroke-width="1.25"/>
<path d="M358.7 279.1l2.9 2.9l-2.9 2.9l-2.9 -2.9z" fill="none" stroke="#d0262a" stroke-width="1.25"/>
<circle cx="68.4" cy="26" r="2.55" fill="#137a1c"/>
<circle cx="69.6" cy="49" r="2.55" fill="#137a1c"/>
<circle cx="67.9" cy="76.4" r="2.55" fill="#137a1c"/>
<circle cx="71.3" cy="82.6" r="2.55" fill="#137a1c"/>
<circle cx="72.4" cy="110" r="2.55" fill="#137a1c"/>
<circle cx="73.3" cy="133.6" r="2.55" fill="#137a1c"/>
<circle cx="74.8" cy="153" r="2.55" fill="#137a1c"/>
<circle cx="75.7" cy="171.3" r="2.55" fill="#137a1c"/>
<circle cx="76.5" cy="183.5" r="2.55" fill="#137a1c"/>
<circle cx="77.4" cy="196.6" r="2.55" fill="#137a1c"/>
<circle cx="78.8" cy="204" r="2.55" fill="#137a1c"/>
<circle cx="80" cy="211.4" r="2.55" fill="#137a1c"/>
<circle cx="80.9" cy="216.6" r="2.55" fill="#137a1c"/>
<circle cx="82.3" cy="221.8" r="2.55" fill="#137a1c"/>
<circle cx="83.5" cy="225.3" r="2.55" fill="#137a1c"/>
<circle cx="84.4" cy="230.5" r="2.55" fill="#137a1c"/>
<circle cx="85.8" cy="234.9" r="2.55" fill="#137a1c"/>
<circle cx="87" cy="238.3" r="2.55" fill="#137a1c"/>
<circle cx="88.2" cy="242.7" r="2.55" fill="#137a1c"/>
<circle cx="89.6" cy="245.3" r="2.55" fill="#137a1c"/>
<circle cx="91" cy="250.5" r="2.55" fill="#137a1c"/>
<circle cx="92.2" cy="254" r="2.55" fill="#137a1c"/>
<circle cx="93.4" cy="257.5" r="2.55" fill="#137a1c"/>
<circle cx="94.8" cy="261" r="2.55" fill="#137a1c"/>
<circle cx="96.6" cy="266.2" r="2.55" fill="#137a1c"/>
<circle cx="99.2" cy="268.8" r="2.55" fill="#137a1c"/>
<circle cx="101.4" cy="275.8" r="2.55" fill="#137a1c"/>
<circle cx="103.5" cy="280" r="2.55" fill="#137a1c"/>
<circle cx="105.3" cy="282.7" r="2.55" fill="#137a1c"/>
<circle cx="66.6" cy="259.8" r="2.55" fill="#137a1c"/>
</g>
<path d="M66.5 282.5v-5M66.5 5.0v5M155.9 282.5v-5M155.9 5.0v5M245.4 282.5v-5M245.4 5.0v5M334.9 282.5v-5M334.9 5.0v5M424.4 282.5v-5M424.4 5.0v5M513.9 282.5v-5M513.9 5.0v5M111.2 282.5v-3M111.2 5.0v2.8M200.7 282.5v-3M200.7 5.0v2.8M290.2 282.5v-3M290.2 5.0v2.8M379.7 282.5v-3M379.7 5.0v2.8M469.2 282.5v-3M469.2 5.0v2.8M57.5 282.5h4.5M57.5 240.7h3M57.5 216.3h3M57.5 199h3M57.5 185.5h3M57.5 174.5h3M57.5 165.2h3M57.5 157.2h3M57.5 150.1h3M57.5 143.8h4.5M57.5 102h3M57.5 77.5h3M57.5 60.2h3M57.5 46.8h3M57.5 35.8h3M57.5 26.5h3M57.5 18.4h3M57.5 11.3h3M57.5 5h4.5" stroke="#2a2a2a" stroke-width="1.1" fill="none"/>
<rect x="57.5" y="5.0" width="456.5" height="277.5" fill="none" stroke="#2a2a2a" stroke-width="1.4"/>
<g font-family="'Liberation Sans', Arial, Helvetica, sans-serif" fill="#1a1a1a" stroke="#1a1a1a" stroke-width="0.3">
<g font-size="13" text-anchor="middle">
<text x="66.5" y="299">0</text>
<text x="155.9" y="299">10</text>
<text x="245.4" y="299">20</text>
<text x="334.9" y="299">30</text>
<text x="424.4" y="299">40</text>
<text x="513.9" y="299">50</text>
</g>
<text x="51.5" y="9.6" font-size="13" text-anchor="end">1</text>
<text x="39.6" y="149.1" font-size="13" text-anchor="end">10</text>
<text x="39.8" y="145.1" font-size="10.5">−1</text>
<text x="39.6" y="288.6" font-size="13" text-anchor="end">10</text>
<text x="39.8" y="284.6" font-size="10.5">−2</text>
<text x="257.2" y="317" font-size="13.7" xml:space="preserve">time  (ns)</text>
<text transform="translate(14.3 143.2) rotate(-90)" font-size="13.7" text-anchor="middle" xml:space="preserve">Fluorescence intensity  (normalized)</text>
<line x1="327.5" y1="29.6" x2="362.5" y2="29.6" stroke="#111" stroke-width="1.3"/>
<g font-size="11.4">
<text x="372" y="34.4">15.2 ns exponential decay</text>
<text x="372" y="51.2">Amorphous</text>
<text x="372" y="67.6">Slightly crystalline</text>
<text x="372" y="84.1">More crystalline</text>
<text x="372" y="100.5">Bulk single crystal</text>
</g></g>
<circle cx="345.8" cy="46.9" r="1.9" fill="none" stroke="#161616" stroke-width="1.1"/>
<rect x="344" y="61.7" width="3.6" height="3.6" fill="none" stroke="#1f1fb4" stroke-width="1.1"/>
<path d="M345.8 77.4l2.8 2.8l-2.8 2.8l-2.8 -2.8z" fill="none" stroke="#d0262a" stroke-width="1.1"/>
<circle cx="345.8" cy="96.6" r="2.3" fill="#137a1c"/>
<g>
<rect x="71" y="661.5" width="198.1" height="125.8" fill="#e9c9c8"/>
<circle cx="117.2" cy="728.2" r="0.8" fill="#c9a2a2" opacity="0.35"/>
<circle cx="186.7" cy="737.8" r="0.6" fill="#c9a2a2" opacity="0.35"/>
<circle cx="74.5" cy="762.8" r="0.7" fill="#c9a2a2" opacity="0.35"/>
<circle cx="116.5" cy="781.5" r="0.9" fill="#c9a2a2" opacity="0.35"/>
<circle cx="230.9" cy="720.2" r="1" fill="#c9a2a2" opacity="0.35"/>
<circle cx="100.6" cy="738.9" r="1.2" fill="#c9a2a2" opacity="0.35"/>
<circle cx="171.4" cy="751.5" r="1" fill="#c9a2a2" opacity="0.35"/>
<circle cx="84.2" cy="753.5" r="1" fill="#c9a2a2" opacity="0.35"/>
<circle cx="129.2" cy="667.7" r="1.2" fill="#c9a2a2" opacity="0.35"/>
<circle cx="161.8" cy="748.8" r="1.2" fill="#c9a2a2" opacity="0.35"/>
<circle cx="207.7" cy="772.7" r="0.8" fill="#c9a2a2" opacity="0.35"/>
<circle cx="224.2" cy="716.5" r="1.2" fill="#c9a2a2" opacity="0.35"/>
<circle cx="239" cy="675.5" r="0.6" fill="#c9a2a2" opacity="0.35"/>
<circle cx="113.2" cy="777.9" r="0.8" fill="#c9a2a2" opacity="0.35"/>
<circle cx="191.1" cy="699.5" r="0.9" fill="#c9a2a2" opacity="0.35"/>
<circle cx="145.3" cy="705.4" r="1" fill="#c9a2a2" opacity="0.35"/>
<circle cx="183" cy="770.7" r="1" fill="#c9a2a2" opacity="0.35"/>
<circle cx="248.5" cy="765.1" r="1.3" fill="#c9a2a2" opacity="0.35"/>
<circle cx="199.5" cy="683.2" r="1.2" fill="#c9a2a2" opacity="0.35"/>
<circle cx="255.3" cy="770.8" r="1" fill="#c9a2a2" opacity="0.35"/>
<circle cx="207.6" cy="688.9" r="1.2" fill="#c9a2a2" opacity="0.35"/>
<circle cx="181" cy="697.6" r="0.6" fill="#c9a2a2" opacity="0.35"/>
<circle cx="234.2" cy="780.8" r="0.6" fill="#c9a2a2" opacity="0.35"/>
<circle cx="224.1" cy="712.4" r="0.6" fill="#c9a2a2" opacity="0.35"/>
<circle cx="127.8" cy="754.7" r="1.2" fill="#c9a2a2" opacity="0.35"/>
<circle cx="80.4" cy="736.5" r="0.5" fill="#c9a2a2" opacity="0.35"/>
<circle cx="208.5" cy="703.1" r="1.2" fill="#c9a2a2" opacity="0.35"/>
<circle cx="258.3" cy="723.6" r="1.3" fill="#c9a2a2" opacity="0.35"/>
<circle cx="130.8" cy="673.1" r="1" fill="#c9a2a2" opacity="0.35"/>
<circle cx="78" cy="687.3" r="0.8" fill="#c9a2a2" opacity="0.35"/>
<circle cx="188" cy="682.4" r="0.5" fill="#c9a2a2" opacity="0.35"/>
<circle cx="236.9" cy="701" r="1.3" fill="#c9a2a2" opacity="0.35"/>
<circle cx="242.4" cy="708.6" r="0.9" fill="#c9a2a2" opacity="0.35"/>
<circle cx="170.8" cy="740" r="1" fill="#c9a2a2" opacity="0.35"/>
<circle cx="178.3" cy="737.2" r="1.3" fill="#c9a2a2" opacity="0.35"/>
<circle cx="168.3" cy="714.9" r="1.1" fill="#c9a2a2" opacity="0.35"/>
<circle cx="117.2" cy="699.5" r="1.3" fill="#c9a2a2" opacity="0.35"/>
<circle cx="171" cy="728.7" r="0.5" fill="#c9a2a2" opacity="0.35"/>
<circle cx="150.9" cy="732.4" r="0.5" fill="#c9a2a2" opacity="0.35"/>
<circle cx="189" cy="738.6" r="0.5" fill="#c9a2a2" opacity="0.35"/>
<g filter="url(#rag)">
<path d="M216.9 688.6 L224.2 686.2 L232.4 684.5 L241.4 683.7 L245.5 687 L246.3 697.6 L248.7 704.1 L247.9 715.6 L245.5 725.4 L238.9 730.3 L234 725.4 L229.1 722.1 L225 717.2 L222.6 710.7 L219.3 702.5 L216.9 696 Z" fill="#dcaab1" stroke="#c98793" stroke-width="1.3"/>
<path d="M228 694 L234 690 L239 693 L241 703 L240 714 L236 719 L232 712 L229 703 Z" fill="#d08a96" opacity="0.6"/>
<path d="M229.1 731.9 L235.7 733.6 L242.2 740.1 L248.7 746.6 L255.3 754.8 L259.3 764.6 L260.2 774.4 L253.6 781 L242.2 782.6 L230.8 782.6 L225 776 L224.2 766.2 L225.8 753.2 L226.7 741.7 Z" fill="#d59aa3" stroke="#c67e8a" stroke-width="1.3"/>
<path d="M229 736 L237 740 L243 750 L246 762 L242 770 L235 770 L230 760 L228 748 Z" fill="#bb5d6d" opacity="0.65"/>
<path d="M188.3 728.7 L194.8 725.4 L204.6 724.6 L210.3 727 L213.6 730.3 L209.5 736.8 L203 743.4 L194.8 748.3 L189.1 748.3 L187.5 740.1 Z" fill="#e2c0c3" stroke="#cfa0a6" stroke-width="1.2"/>
<path d="M204.6 709 L209.5 705.8 L213.6 710.7 L213.6 720.5 L209.5 722.1 L205.4 717.2 Z" fill="#e0b9bd" stroke="#d4a4aa" stroke-width="0.9"/>
<path d="M217.7 738 L219 752 L215 766 L211 773" fill="none" stroke="#dec2c2" stroke-width="2.5"/>
<path d="M212.8 725.4 L230.8 728.7" stroke="#efe2c4" stroke-width="2.4"/>
</g>
<g filter="url(#bl05)">
<circle cx="233" cy="745" r="1.8" fill="#b04656" opacity="0.55"/>
<circle cx="231" cy="752" r="1.5" fill="#b04656" opacity="0.55"/>
<circle cx="237" cy="757" r="1.4" fill="#b04656" opacity="0.55"/>
<circle cx="253" cy="763" r="1.5" fill="#b04656" opacity="0.55"/>
<circle cx="232" cy="763" r="1.3" fill="#b04656" opacity="0.55"/>
<circle cx="241" cy="748" r="1.2" fill="#b04656" opacity="0.55"/>
<circle cx="236" cy="701" r="1.2" fill="#b04656" opacity="0.55"/>
<circle cx="240" cy="712" r="1.1" fill="#b04656" opacity="0.55"/>
<circle cx="233" cy="736" r="1.5" fill="#b04656" opacity="0.55"/>
</g>
<circle cx="212" cy="723.2" r="1.9" fill="#2a1418"/>
<circle cx="231.1" cy="727.9" r="2.6" fill="#1e1012"/>
<path d="M101.5 769v17M123.8 769v17" stroke="#6070a8" stroke-width="0.9"/>
<rect x="101.5" y="775.4" width="22.3" height="3.8" fill="#3048a8"/>
<text x="82.6" y="765.5" font-family="'Liberation Serif', 'Times New Roman', serif" font-weight="bold" font-size="21.3" fill="#2c4298">10 <tspan font-style="italic">μ</tspan>m</text>
</g>
<g clip-path="url(#cb)">
<polyline points="57.4,354.8 58.1,354.8 58.7,354.8 59.4,354.8 60,354.8 60.7,354.8 61.4,354.8 62,354.8 62.7,354.8 63.3,354.8 64,354.9 64.7,354.9 65.3,354.9 66,354.9 66.6,354.9 67.3,354.9 68,354.9 68.6,354.9 69.3,354.9 69.9,354.9 70.6,355 71.2,355 71.9,355 72.6,355 73.2,355 73.9,355 74.5,355 75.2,355 75.9,355 76.5,355.1 77.2,355.1 77.8,355.1 78.5,355.1 79.2,355.1 79.8,355.1 80.5,355.1 81.1,355.1 81.8,355.2 82.4,355.2 83.1,355.2 83.8,355.2 84.4,355.2 85.1,355.2 85.7,355.2 86.4,355.2 87.1,355.3 87.7,355.3 88.4,355.3 89,355.3 89.7,355.3 90.4,355.3 91,355.3 91.7,355.4 92.3,355.4 93,355.4 93.7,355.4 94.3,355.4 95,355.4 95.6,355.4 96.3,355.5 96.9,355.5 97.6,355.5 98.3,355.5 98.9,355.5 99.6,355.5 100.2,355.6 100.9,355.6 101.6,355.6 102.2,355.6 102.9,355.6 103.5,355.6 104.2,355.7 104.9,355.7 105.5,355.7 106.2,355.7 106.8,355.7 107.5,355.8 108.2,355.8 108.8,355.8 109.5,355.8 110.1,355.8 110.8,355.8 111.4,355.9 112.1,355.9 112.8,355.9 113.4,355.9 114.1,355.9 114.7,356 115.4,356 116.1,356 116.7,356 117.4,356 118,356.1 118.7,356.1 119.4,356.1 120,356.1 120.7,356.2 121.3,356.2 122,356.2 122.6,356.2 123.3,356.3 124,356.3 124.6,356.3 125.3,356.3 125.9,356.3 126.6,356.4 127.3,356.4 127.9,356.4 128.6,356.4 129.2,356.5 129.9,356.5 130.6,356.5 131.2,356.5 131.9,356.6 132.5,356.6 133.2,356.6 133.9,356.7 134.5,356.7 135.2,356.7 135.8,356.7 136.5,356.8 137.1,356.8 137.8,356.8 138.5,356.9 139.1,356.9 139.8,356.9 140.4,356.9 141.1,357 141.8,357 142.4,357 143.1,357.1 143.7,357.1 144.4,357.1 145.1,357.2 145.7,357.2 146.4,357.2 147,357.3 147.7,357.3 148.4,357.3 149,357.4 149.7,357.4 150.3,357.4 151,357.5 151.6,357.5 152.3,357.5 153,357.6 153.6,357.6 154.3,357.7 154.9,357.7 155.6,357.7 156.3,357.8 156.9,357.8 157.6,357.8 158.2,357.9 158.9,357.9 159.6,358 160.2,358 160.9,358 161.5,358.1 162.2,358.1 162.8,358.2 163.5,358.2 164.2,358.3 164.8,358.3 165.5,358.3 166.1,358.4 166.8,358.4 167.5,358.5 168.1,358.5 168.8,358.6 169.4,358.6 170.1,358.7 170.8,358.7 171.4,358.8 172.1,358.8 172.7,358.9 173.4,358.9 174.1,359 174.7,359 175.4,359.1 176,359.1 176.7,359.2 177.3,359.2 178,359.3 178.7,359.3 179.3,359.4 180,359.4 180.6,359.5 181.3,359.5 182,359.6 182.6,359.7 183.3,359.7 183.9,359.8 184.6,359.8 185.3,359.9 185.9,360 186.6,360 187.2,360.1 187.9,360.1 188.5,360.2 189.2,360.3 189.9,360.3 190.5,360.4 191.2,360.5 191.8,360.5 192.5,360.6 193.2,360.7 193.8,360.7 194.5,360.8 195.1,360.9 195.8,360.9 196.5,361 197.1,361.1 197.8,361.1 198.4,361.2 199.1,361.3 199.8,361.4 200.4,361.4 201.1,361.5 201.7,361.6 202.4,361.7 203,361.7 203.7,361.8 204.4,361.9 205,362 205.7,362.1 206.3,362.1 207,362.2 207.7,362.3 208.3,362.4 209,362.5 209.6,362.6 210.3,362.6 211,362.7 211.6,362.8 212.3,362.9 212.9,363 213.6,363.1 214.3,363.2 214.9,363.3 215.6,363.4 216.2,363.5 216.9,363.6 217.5,363.7 218.2,363.8 218.9,363.9 219.5,364 220.2,364.1 220.8,364.2 221.5,364.3 222.2,364.4 222.8,364.5 223.5,364.6 224.1,364.7 224.8,364.8 225.5,364.9 226.1,365 226.8,365.1 227.4,365.2 228.1,365.3 228.7,365.5 229.4,365.6 230.1,365.7 230.7,365.8 231.4,365.9 232,366 232.7,366.2 233.4,366.3 234,366.4 234.7,366.5 235.3,366.7 236,366.8 236.7,366.9 237.3,367.1 238,367.2 238.6,367.3 239.3,367.5 240,367.6 240.6,367.7 241.3,367.9 241.9,368 242.6,368.1 243.2,368.3 243.9,368.4 244.6,368.6 245.2,368.7 245.9,368.9 246.5,369 247.2,369.2 247.9,369.3 248.5,369.5 249.2,369.6 249.8,369.8 250.5,370 251.2,370.1 251.8,370.3 252.5,370.4 253.1,370.6 253.8,370.8 254.5,370.9 255.1,371.1 255.8,371.3 256.4,371.5 257.1,371.6 257.7,371.8 258.4,372 259.1,372.2 259.7,372.4 260.4,372.5 261,372.7 261.7,372.9 262.4,373.1 263,373.3 263.7,373.5 264.3,373.7 265,373.9 265.7,374.1 266.3,374.3 267,374.5 267.6,374.7 268.3,374.9 268.9,375.1 269.6,375.3 270.3,375.5 270.9,375.8 271.6,376 272.2,376.2 272.9,376.4 273.6,376.6 274.2,376.9 274.9,377.1 275.5,377.3 276.2,377.6 276.9,377.8 277.5,378 278.2,378.3 278.8,378.5 279.5,378.8 280.2,379 280.8,379.3 281.5,379.5 282.1,379.8 282.8,380 283.4,380.3 284.1,380.6 284.8,380.8 285.4,381.1 286.1,381.4 286.7,381.6 287.4,381.9 288.1,382.2 288.7,382.5 289.4,382.8 290,383.1 290.7,383.4 291.4,383.6 292,383.9 292.7,384.2 293.3,384.5 294,384.9 294.7,385.2 295.3,385.5 296,385.8 296.6,386.1 297.3,386.4 297.9,386.8 298.6,387.1 299.3,387.4 299.9,387.8 300.6,388.1 301.2,388.4 301.9,388.8 302.6,389.1 303.2,389.5 303.9,389.8 304.5,390.2 305.2,390.6 305.9,390.9 306.5,391.3 307.2,391.7 307.8,392 308.5,392.4 309.1,392.8 309.8,393.2 310.5,393.6 311.1,394 311.8,394.4 312.4,394.8 313.1,395.2 313.8,395.6 314.4,396 315.1,396.5 315.7,396.9 316.4,397.3 317.1,397.8 317.7,398.2 318.4,398.6 319,399.1 319.7,399.5 320.4,400 321,400.4 321.7,400.9 322.3,401.4 323,401.9 323.6,402.3 324.3,402.8 325,403.3 325.6,403.8 326.3,404.3 326.9,404.8 327.6,405.3 328.3,405.8 328.9,406.4 329.6,406.9 330.2,407.4 330.9,407.9 331.6,408.5 332.2,409 332.9,409.6 333.5,410.1 334.2,410.7 334.9,411.3 335.5,411.8 336.2,412.4 336.8,413 337.5,413.6 338.1,414.2 338.8,414.8 339.5,415.4 340.1,416 340.8,416.6 341.4,417.3 342.1,417.9 342.8,418.5 343.4,419.2 344.1,419.8 344.7,420.5 345.4,421.2 346.1,421.8 346.7,422.5 347.4,423.2 348,423.9 348.7,424.6 349.3,425.3 350,426 350.7,426.7 351.3,427.5 352,428.2 352.6,429 353.3,429.7 354,430.5 354.6,431.2 355.3,432 355.9,432.8 356.6,433.6 357.3,434.4 357.9,435.2 358.6,436 359.2,436.8 359.9,437.6 360.6,438.5 361.2,439.3 361.9,440.2 362.5,441 363.2,441.9 363.8,442.8 364.5,443.7 365.2,444.6 365.8,445.5 366.5,446.4 367.1,447.3 367.8,448.3 368.5,449.2 369.1,450.1 369.8,451.1 370.4,452.1 371.1,453.1 371.8,454.1 372.4,455.1 373.1,456.1 373.7,457.1 374.4,458.1 375,459.2 375.7,460.2 376.4,461.3 377,462.4 377.7,463.4 378.3,464.5 379,465.6 379.7,466.8 380.3,467.9 381,469 381.6,470.2 382.3,471.3 383,472.5 383.6,473.7 384.3,474.9 384.9,476.1 385.6,477.3 386.3,478.6 386.9,479.8 387.6,481.1 388.2,482.3 388.9,483.6 389.5,484.9 390.2,486.2 390.9,487.6 391.5,488.9 392.2,490.2 392.8,491.6 393.5,493 394.2,494.4 394.8,495.8 395.5,497.2 396.1,498.6 396.8,500.1 397.5,501.5 398.1,503 398.8,504.5 399.4,506 400.1,507.5 400.8,509.1 401.4,510.6 402.1,512.2 402.7,513.8 403.4,515.4 404,517 404.7,518.6 405.4,520.3 406,521.9 406.7,523.6 407.3,525.3 408,527 408.7,528.8 409.3,530.5 410,532.3 410.6,534.1 411.3,535.9 412,537.7 412.6,539.5 413.3,541.4 413.9,543.2 414.6,545.1 415.2,547 415.9,549 416.6,550.9 417.2,552.9 417.9,554.9 418.5,556.9 419.2,558.9 419.9,561 420.5,563.1 421.2,565.1 421.8,567.3 422.5,569.4 423.2,571.5 423.8,573.7 424.5,575.9 425.1,578.1 425.8,580.4 426.5,582.6 427.1,584.9 427.8,587.2 428.4,589.6 429.1,591.9 429.7,594.3 430.4,596.7 431.1,599.1 431.7,601.6 432.4,604.1 433,606.6 433.7,609.1 434.4,611.7 435,614.2 435.7,616.8 436.3,619.5 437,622.1 437.7,624.8 438.3,627.5 439,630.2 439.6,633 440.3,635.8 441,638.6 441.6,641.5 442.3,644.3 442.9,647.3 443.6,650.2 444.2,653.1 444.9,656.1 445.6,659.2 446.2,662.2 446.9,665.3 447.5,668.4 448.2,671.6 448.9,674.7 449.5,677.9 450.2,681.2 450.8,684.5 451.5,687.8 452.2,691.1 452.8,694.5 453.5,697.9 454.1,701.3 454.8,704.8 455.4,708.3 456.1,711.8 456.8,715.4 457.4,719 458.1,722.7 458.7,726.4 459.4,730.1 460.1,733.9 460.7,737.7 461.4,741.5 462,745.4 462.7,749.3 463.4,753.2 464,757.2 464.7,761.3 465.3,765.3 466,769.5 466.7,773.6 467.3,777.8 468,782.1 468.6,786.3 469.3,790.7 469.9,795 470.6,799.4 471.3,803.9" fill="none" stroke="#111" stroke-width="1.25"/>
</g><g>
<circle cx="65" cy="410.8" r="2.3" fill="none" stroke="#141414" stroke-width="1.2"/>
<circle cx="73.9" cy="391.3" r="2.3" fill="none" stroke="#141414" stroke-width="1.2"/>
<circle cx="81.6" cy="382.4" r="2.3" fill="none" stroke="#141414" stroke-width="1.2"/>
<circle cx="92.1" cy="386.7" r="2.3" fill="none" stroke="#141414" stroke-width="1.2"/>
<circle cx="103.2" cy="362.8" r="2.3" fill="none" stroke="#141414" stroke-width="1.2"/>
<circle cx="113.2" cy="360.2" r="2.3" fill="none" stroke="#141414" stroke-width="1.2"/>
<circle cx="121.6" cy="353.2" r="2.3" fill="none" stroke="#141414" stroke-width="1.2"/>
<circle cx="129" cy="359.3" r="2.3" fill="none" stroke="#141414" stroke-width="1.2"/>
<circle cx="137.6" cy="359" r="2.3" fill="none" stroke="#141414" stroke-width="1.2"/>
<circle cx="146.3" cy="357" r="2.3" fill="none" stroke="#141414" stroke-width="1.2"/>
<circle cx="154" cy="355.6" r="2.3" fill="none" stroke="#141414" stroke-width="1.2"/>
<circle cx="160.8" cy="351.1" r="2.3" fill="none" stroke="#141414" stroke-width="1.2"/>
<circle cx="168.5" cy="359" r="2.3" fill="none" stroke="#141414" stroke-width="1.2"/>
<circle cx="176" cy="369.5" r="2.3" fill="none" stroke="#141414" stroke-width="1.2"/>
<circle cx="183.3" cy="354.9" r="2.3" fill="none" stroke="#141414" stroke-width="1.2"/>
<circle cx="191.3" cy="357" r="2.3" fill="none" stroke="#141414" stroke-width="1.2"/>
<circle cx="198.2" cy="359" r="2.3" fill="none" stroke="#141414" stroke-width="1.2"/>
<circle cx="205" cy="359" r="2.3" fill="none" stroke="#141414" stroke-width="1.2"/>
<circle cx="212" cy="358.4" r="2.3" fill="none" stroke="#141414" stroke-width="1.2"/>
<circle cx="219" cy="357" r="2.3" fill="none" stroke="#141414" stroke-width="1.2"/>
<circle cx="226" cy="362.5" r="2.3" fill="none" stroke="#141414" stroke-width="1.2"/>
<circle cx="232.8" cy="368.4" r="2.3" fill="none" stroke="#141414" stroke-width="1.2"/>
<circle cx="239.1" cy="366.7" r="2.3" fill="none" stroke="#141414" stroke-width="1.2"/>
<circle cx="246" cy="368.4" r="2.3" fill="none" stroke="#141414" stroke-width="1.2"/>
<circle cx="252.3" cy="362.5" r="2.3" fill="none" stroke="#141414" stroke-width="1.2"/>
<circle cx="259.2" cy="365" r="2.3" fill="none" stroke="#141414" stroke-width="1.2"/>
<circle cx="265.8" cy="371.9" r="2.3" fill="none" stroke="#141414" stroke-width="1.2"/>
<circle cx="272" cy="374.3" r="2.3" fill="none" stroke="#141414" stroke-width="1.2"/>
<circle cx="278.2" cy="376.4" r="2.3" fill="none" stroke="#141414" stroke-width="1.2"/>
<circle cx="284.5" cy="378.8" r="2.3" fill="none" stroke="#141414" stroke-width="1.2"/>
<circle cx="291.4" cy="389.2" r="2.3" fill="none" stroke="#141414" stroke-width="1.2"/>
<circle cx="298" cy="388.5" r="2.3" fill="none" stroke="#141414" stroke-width="1.2"/>
<circle cx="304.5" cy="390.2" r="2.3" fill="none" stroke="#141414" stroke-width="1.2"/>
<circle cx="310.8" cy="392.7" r="2.3" fill="none" stroke="#141414" stroke-width="1.2"/>
<circle cx="317" cy="395.4" r="2.3" fill="none" stroke="#141414" stroke-width="1.2"/>
<circle cx="323.2" cy="403.4" r="2.3" fill="none" stroke="#141414" stroke-width="1.2"/>
<circle cx="329.8" cy="411.7" r="2.3" fill="none" stroke="#141414" stroke-width="1.2"/>
<circle cx="336.2" cy="413.5" r="2.3" fill="none" stroke="#141414" stroke-width="1.2"/>
<circle cx="342.4" cy="423.3" r="2.3" fill="none" stroke="#141414" stroke-width="1.2"/>
<circle cx="348.7" cy="427.7" r="2.3" fill="none" stroke="#141414" stroke-width="1.2"/>
<circle cx="355.2" cy="436" r="2.3" fill="none" stroke="#141414" stroke-width="1.2"/>
<circle cx="361.3" cy="443.5" r="2.3" fill="none" stroke="#141414" stroke-width="1.2"/>
<circle cx="368.2" cy="451.5" r="2.3" fill="none" stroke="#141414" stroke-width="1.2"/>
<circle cx="374.5" cy="464.3" r="2.3" fill="none" stroke="#141414" stroke-width="1.2"/>
<circle cx="381.1" cy="471.1" r="2.3" fill="none" stroke="#141414" stroke-width="1.2"/>
<circle cx="387.3" cy="483.5" r="2.3" fill="none" stroke="#141414" stroke-width="1.2"/>
<circle cx="393.5" cy="494.8" r="2.3" fill="none" stroke="#141414" stroke-width="1.2"/>
<circle cx="399.6" cy="513.4" r="2.3" fill="none" stroke="#141414" stroke-width="1.2"/>
<circle cx="405.6" cy="528.4" r="2.3" fill="none" stroke="#141414" stroke-width="1.2"/>
<circle cx="412.3" cy="540" r="2.3" fill="none" stroke="#141414" stroke-width="1.2"/>
<circle cx="419" cy="560.2" r="2.3" fill="none" stroke="#141414" stroke-width="1.2"/>
<circle cx="425.2" cy="575.6" r="2.3" fill="none" stroke="#141414" stroke-width="1.2"/>
<circle cx="431.2" cy="591.7" r="2.3" fill="none" stroke="#141414" stroke-width="1.2"/>
<circle cx="437.4" cy="638.7" r="2.3" fill="none" stroke="#141414" stroke-width="1.2"/>
<circle cx="443.8" cy="650.3" r="2.3" fill="none" stroke="#141414" stroke-width="1.2"/>
<circle cx="450" cy="681.8" r="2.3" fill="none" stroke="#141414" stroke-width="1.2"/>
<circle cx="456.7" cy="723.7" r="2.3" fill="none" stroke="#141414" stroke-width="1.2"/>
<circle cx="475.3" cy="714.2" r="2.3" fill="none" stroke="#141414" stroke-width="1.2"/>
<circle cx="488.2" cy="779.4" r="2.3" fill="none" stroke="#141414" stroke-width="1.2"/>
<circle cx="494.4" cy="791.8" r="2.3" fill="none" stroke="#141414" stroke-width="1.2"/>
<rect x="63" y="385.8" width="4.1" height="4.1" fill="none" stroke="#3d55d6" stroke-width="1.25"/>
<rect x="71.9" y="374.6" width="4.1" height="4.1" fill="none" stroke="#3d55d6" stroke-width="1.25"/>
<rect x="79.5" y="359.8" width="4.1" height="4.1" fill="none" stroke="#3d55d6" stroke-width="1.25"/>
<rect x="101.2" y="351.2" width="4.1" height="4.1" fill="none" stroke="#3d55d6" stroke-width="1.25"/>
<rect x="111.2" y="364.3" width="4.1" height="4.1" fill="none" stroke="#3d55d6" stroke-width="1.25"/>
<rect x="119.5" y="368.9" width="4.1" height="4.1" fill="none" stroke="#3d55d6" stroke-width="1.25"/>
<rect x="127" y="373.8" width="4.1" height="4.1" fill="none" stroke="#3d55d6" stroke-width="1.25"/>
<rect x="135.5" y="379.1" width="4.1" height="4.1" fill="none" stroke="#3d55d6" stroke-width="1.25"/>
<rect x="144.2" y="382.9" width="4.1" height="4.1" fill="none" stroke="#3d55d6" stroke-width="1.25"/>
<rect x="151.9" y="392.3" width="4.1" height="4.1" fill="none" stroke="#3d55d6" stroke-width="1.25"/>
<rect x="158.8" y="392.3" width="4.1" height="4.1" fill="none" stroke="#3d55d6" stroke-width="1.25"/>
<rect x="166.4" y="401.9" width="4.1" height="4.1" fill="none" stroke="#3d55d6" stroke-width="1.25"/>
<rect x="173.9" y="401.3" width="4.1" height="4.1" fill="none" stroke="#3d55d6" stroke-width="1.25"/>
<rect x="181.2" y="408.9" width="4.1" height="4.1" fill="none" stroke="#3d55d6" stroke-width="1.25"/>
<rect x="189.2" y="420.8" width="4.1" height="4.1" fill="none" stroke="#3d55d6" stroke-width="1.25"/>
<rect x="196.1" y="417.2" width="4.1" height="4.1" fill="none" stroke="#3d55d6" stroke-width="1.25"/>
<rect x="202.9" y="423.4" width="4.1" height="4.1" fill="none" stroke="#3d55d6" stroke-width="1.25"/>
<rect x="209.9" y="426.2" width="4.1" height="4.1" fill="none" stroke="#3d55d6" stroke-width="1.25"/>
<rect x="216.9" y="437.3" width="4.1" height="4.1" fill="none" stroke="#3d55d6" stroke-width="1.25"/>
<rect x="223.9" y="437.3" width="4.1" height="4.1" fill="none" stroke="#3d55d6" stroke-width="1.25"/>
<rect x="230.4" y="442.6" width="4.1" height="4.1" fill="none" stroke="#3d55d6" stroke-width="1.25"/>
<rect x="237" y="440.1" width="4.1" height="4.1" fill="none" stroke="#3d55d6" stroke-width="1.25"/>
<rect x="243.9" y="452.2" width="4.1" height="4.1" fill="none" stroke="#3d55d6" stroke-width="1.25"/>
<rect x="250.2" y="452.2" width="4.1" height="4.1" fill="none" stroke="#3d55d6" stroke-width="1.25"/>
<rect x="257.1" y="456.3" width="4.1" height="4.1" fill="none" stroke="#3d55d6" stroke-width="1.25"/>
<rect x="263.8" y="467.8" width="4.1" height="4.1" fill="none" stroke="#3d55d6" stroke-width="1.25"/>
<rect x="269.9" y="460.1" width="4.1" height="4.1" fill="none" stroke="#3d55d6" stroke-width="1.25"/>
<rect x="276.1" y="465.6" width="4.1" height="4.1" fill="none" stroke="#3d55d6" stroke-width="1.25"/>
<rect x="282.9" y="471.1" width="4.1" height="4.1" fill="none" stroke="#3d55d6" stroke-width="1.25"/>
<rect x="289.3" y="476.6" width="4.1" height="4.1" fill="none" stroke="#3d55d6" stroke-width="1.25"/>
<rect x="295.8" y="479.4" width="4.1" height="4.1" fill="none" stroke="#3d55d6" stroke-width="1.25"/>
<rect x="301.9" y="485.6" width="4.1" height="4.1" fill="none" stroke="#3d55d6" stroke-width="1.25"/>
<rect x="308.3" y="483.8" width="4.1" height="4.1" fill="none" stroke="#3d55d6" stroke-width="1.25"/>
<rect x="314.8" y="490.9" width="4.1" height="4.1" fill="none" stroke="#3d55d6" stroke-width="1.25"/>
<rect x="321.1" y="498.4" width="4.1" height="4.1" fill="none" stroke="#3d55d6" stroke-width="1.25"/>
<rect x="327.8" y="505.4" width="4.1" height="4.1" fill="none" stroke="#3d55d6" stroke-width="1.25"/>
<rect x="334.3" y="509.6" width="4.1" height="4.1" fill="none" stroke="#3d55d6" stroke-width="1.25"/>
<rect x="340.6" y="512.4" width="4.1" height="4.1" fill="none" stroke="#3d55d6" stroke-width="1.25"/>
<rect x="346.8" y="518.6" width="4.1" height="4.1" fill="none" stroke="#3d55d6" stroke-width="1.25"/>
<rect x="352.9" y="528" width="4.1" height="4.1" fill="none" stroke="#3d55d6" stroke-width="1.25"/>
<rect x="359.2" y="534.9" width="4.1" height="4.1" fill="none" stroke="#3d55d6" stroke-width="1.25"/>
<rect x="365.8" y="545.6" width="4.1" height="4.1" fill="none" stroke="#3d55d6" stroke-width="1.25"/>
<rect x="372.4" y="560.1" width="4.1" height="4.1" fill="none" stroke="#3d55d6" stroke-width="1.25"/>
<rect x="379.1" y="566.5" width="4.1" height="4.1" fill="none" stroke="#3d55d6" stroke-width="1.25"/>
<rect x="385.2" y="577.6" width="4.1" height="4.1" fill="none" stroke="#3d55d6" stroke-width="1.25"/>
<rect x="391.3" y="588" width="4.1" height="4.1" fill="none" stroke="#3d55d6" stroke-width="1.25"/>
<rect x="397.3" y="599.8" width="4.1" height="4.1" fill="none" stroke="#3d55d6" stroke-width="1.25"/>
<rect x="403.8" y="613.8" width="4.1" height="4.1" fill="none" stroke="#3d55d6" stroke-width="1.25"/>
<rect x="410.2" y="623.2" width="4.1" height="4.1" fill="none" stroke="#3d55d6" stroke-width="1.25"/>
<rect x="416.8" y="637.8" width="4.1" height="4.1" fill="none" stroke="#3d55d6" stroke-width="1.25"/>
<rect x="423.1" y="646.7" width="4.1" height="4.1" fill="none" stroke="#3d55d6" stroke-width="1.25"/>
<rect x="429.1" y="662.2" width="4.1" height="4.1" fill="none" stroke="#3d55d6" stroke-width="1.25"/>
<rect x="435.6" y="673.6" width="4.1" height="4.1" fill="none" stroke="#3d55d6" stroke-width="1.25"/>
<rect x="441.9" y="686" width="4.1" height="4.1" fill="none" stroke="#3d55d6" stroke-width="1.25"/>
<rect x="448.4" y="712.4" width="4.1" height="4.1" fill="none" stroke="#3d55d6" stroke-width="1.25"/>
<rect x="454.6" y="713.1" width="4.1" height="4.1" fill="none" stroke="#3d55d6" stroke-width="1.25"/>
<rect x="460.9" y="716.5" width="4.1" height="4.1" fill="none" stroke="#3d55d6" stroke-width="1.25"/>
<rect x="467.3" y="723.5" width="4.1" height="4.1" fill="none" stroke="#3d55d6" stroke-width="1.25"/>
<rect x="473.6" y="728.4" width="4.1" height="4.1" fill="none" stroke="#3d55d6" stroke-width="1.25"/>
<rect x="479.8" y="740.5" width="4.1" height="4.1" fill="none" stroke="#3d55d6" stroke-width="1.25"/>
<rect x="486.1" y="737" width="4.1" height="4.1" fill="none" stroke="#3d55d6" stroke-width="1.25"/>
<rect x="492.3" y="748.2" width="4.1" height="4.1" fill="none" stroke="#3d55d6" stroke-width="1.25"/>
<rect x="498.8" y="766" width="4.1" height="4.1" fill="none" stroke="#3d55d6" stroke-width="1.25"/>
<rect x="505.3" y="777.4" width="4.1" height="4.1" fill="none" stroke="#3d55d6" stroke-width="1.25"/>
<path d="M65 376.7l3.1 3.1l-3.1 3.1l-3.1 -3.1z" fill="none" stroke="#da3a30" stroke-width="1.2"/>
<path d="M73.9 360.2l3.1 3.1l-3.1 3.1l-3.1 -3.1z" fill="none" stroke="#da3a30" stroke-width="1.2"/>
<path d="M81.6 355.1l3.1 3.1l-3.1 3.1l-3.1 -3.1z" fill="none" stroke="#da3a30" stroke-width="1.2"/>
<path d="M92.1 347.9l3.1 3.1l-3.1 3.1l-3.1 -3.1z" fill="none" stroke="#da3a30" stroke-width="1.2"/>
<path d="M103.2 357.4l3.1 3.1l-3.1 3.1l-3.1 -3.1z" fill="none" stroke="#da3a30" stroke-width="1.2"/>
<path d="M113.2 368.5l3.1 3.1l-3.1 3.1l-3.1 -3.1z" fill="none" stroke="#da3a30" stroke-width="1.2"/>
<path d="M121.6 376.7l3.1 3.1l-3.1 3.1l-3.1 -3.1z" fill="none" stroke="#da3a30" stroke-width="1.2"/>
<path d="M129 382.1l3.1 3.1l-3.1 3.1l-3.1 -3.1z" fill="none" stroke="#da3a30" stroke-width="1.2"/>
<path d="M137.6 385.4l3.1 3.1l-3.1 3.1l-3.1 -3.1z" fill="none" stroke="#da3a30" stroke-width="1.2"/>
<path d="M146.3 398.2l3.1 3.1l-3.1 3.1l-3.1 -3.1z" fill="none" stroke="#da3a30" stroke-width="1.2"/>
<path d="M154 405.9l3.1 3.1l-3.1 3.1l-3.1 -3.1z" fill="none" stroke="#da3a30" stroke-width="1.2"/>
<path d="M160.8 413.8l3.1 3.1l-3.1 3.1l-3.1 -3.1z" fill="none" stroke="#da3a30" stroke-width="1.2"/>
<path d="M168.5 417.9l3.1 3.1l-3.1 3.1l-3.1 -3.1z" fill="none" stroke="#da3a30" stroke-width="1.2"/>
<path d="M176 425.2l3.1 3.1l-3.1 3.1l-3.1 -3.1z" fill="none" stroke="#da3a30" stroke-width="1.2"/>
<path d="M183.3 436.3l3.1 3.1l-3.1 3.1l-3.1 -3.1z" fill="none" stroke="#da3a30" stroke-width="1.2"/>
<path d="M190.8 442.8l3.1 3.1l-3.1 3.1l-3.1 -3.1z" fill="none" stroke="#da3a30" stroke-width="1.2"/>
<path d="M198 450.4l3.1 3.1l-3.1 3.1l-3.1 -3.1z" fill="none" stroke="#da3a30" stroke-width="1.2"/>
<path d="M205.3 458.4l3.1 3.1l-3.1 3.1l-3.1 -3.1z" fill="none" stroke="#da3a30" stroke-width="1.2"/>
<path d="M212.3 468.7l3.1 3.1l-3.1 3.1l-3.1 -3.1z" fill="none" stroke="#da3a30" stroke-width="1.2"/>
<path d="M219 478.6l3.1 3.1l-3.1 3.1l-3.1 -3.1z" fill="none" stroke="#da3a30" stroke-width="1.2"/>
<path d="M225.8 480l3.1 3.1l-3.1 3.1l-3.1 -3.1z" fill="none" stroke="#da3a30" stroke-width="1.2"/>
<path d="M232.5 487.3l3.1 3.1l-3.1 3.1l-3.1 -3.1z" fill="none" stroke="#da3a30" stroke-width="1.2"/>
<path d="M239.1 489.5l3.1 3.1l-3.1 3.1l-3.1 -3.1z" fill="none" stroke="#da3a30" stroke-width="1.2"/>
<path d="M245.4 496.5l3.1 3.1l-3.1 3.1l-3.1 -3.1z" fill="none" stroke="#da3a30" stroke-width="1.2"/>
<path d="M252.5 501.1l3.1 3.1l-3.1 3.1l-3.1 -3.1z" fill="none" stroke="#da3a30" stroke-width="1.2"/>
<path d="M259.2 511.1l3.1 3.1l-3.1 3.1l-3.1 -3.1z" fill="none" stroke="#da3a30" stroke-width="1.2"/>
<path d="M265.4 514.9l3.1 3.1l-3.1 3.1l-3.1 -3.1z" fill="none" stroke="#da3a30" stroke-width="1.2"/>
<path d="M272 516.9l3.1 3.1l-3.1 3.1l-3.1 -3.1z" fill="none" stroke="#da3a30" stroke-width="1.2"/>
<path d="M278 519.9l3.1 3.1l-3.1 3.1l-3.1 -3.1z" fill="none" stroke="#da3a30" stroke-width="1.2"/>
<path d="M284.5 536.2l3.1 3.1l-3.1 3.1l-3.1 -3.1z" fill="none" stroke="#da3a30" stroke-width="1.2"/>
<path d="M291.4 539.7l3.1 3.1l-3.1 3.1l-3.1 -3.1z" fill="none" stroke="#da3a30" stroke-width="1.2"/>
<path d="M298 545.2l3.1 3.1l-3.1 3.1l-3.1 -3.1z" fill="none" stroke="#da3a30" stroke-width="1.2"/>
<path d="M304.5 550.1l3.1 3.1l-3.1 3.1l-3.1 -3.1z" fill="none" stroke="#da3a30" stroke-width="1.2"/>
<path d="M310.8 555.6l3.1 3.1l-3.1 3.1l-3.1 -3.1z" fill="none" stroke="#da3a30" stroke-width="1.2"/>
<path d="M317 558.4l3.1 3.1l-3.1 3.1l-3.1 -3.1z" fill="none" stroke="#da3a30" stroke-width="1.2"/>
<path d="M323.2 566.7l3.1 3.1l-3.1 3.1l-3.1 -3.1z" fill="none" stroke="#da3a30" stroke-width="1.2"/>
<path d="M329.8 574.3l3.1 3.1l-3.1 3.1l-3.1 -3.1z" fill="none" stroke="#da3a30" stroke-width="1.2"/>
<path d="M336.4 576.4l3.1 3.1l-3.1 3.1l-3.1 -3.1z" fill="none" stroke="#da3a30" stroke-width="1.2"/>
<path d="M342.2 588.1l3.1 3.1l-3.1 3.1l-3.1 -3.1z" fill="none" stroke="#da3a30" stroke-width="1.2"/>
<path d="M348.9 586.9l3.1 3.1l-3.1 3.1l-3.1 -3.1z" fill="none" stroke="#da3a30" stroke-width="1.2"/>
<path d="M355.1 594.4l3.1 3.1l-3.1 3.1l-3.1 -3.1z" fill="none" stroke="#da3a30" stroke-width="1.2"/>
<path d="M361.7 603.8l3.1 3.1l-3.1 3.1l-3.1 -3.1z" fill="none" stroke="#da3a30" stroke-width="1.2"/>
<path d="M368.4 607.9l3.1 3.1l-3.1 3.1l-3.1 -3.1z" fill="none" stroke="#da3a30" stroke-width="1.2"/>
<path d="M374.6 615.1l3.1 3.1l-3.1 3.1l-3.1 -3.1z" fill="none" stroke="#da3a30" stroke-width="1.2"/>
<path d="M381.3 622.7l3.1 3.1l-3.1 3.1l-3.1 -3.1z" fill="none" stroke="#da3a30" stroke-width="1.2"/>
<path d="M387.3 627.2l3.1 3.1l-3.1 3.1l-3.1 -3.1z" fill="none" stroke="#da3a30" stroke-width="1.2"/>
<path d="M393.2 641.8l3.1 3.1l-3.1 3.1l-3.1 -3.1z" fill="none" stroke="#da3a30" stroke-width="1.2"/>
<path d="M399.4 647.9l3.1 3.1l-3.1 3.1l-3.1 -3.1z" fill="none" stroke="#da3a30" stroke-width="1.2"/>
<path d="M405.8 655.5l3.1 3.1l-3.1 3.1l-3.1 -3.1z" fill="none" stroke="#da3a30" stroke-width="1.2"/>
<path d="M412.3 659.3l3.1 3.1l-3.1 3.1l-3.1 -3.1z" fill="none" stroke="#da3a30" stroke-width="1.2"/>
<path d="M418.8 665.2l3.1 3.1l-3.1 3.1l-3.1 -3.1z" fill="none" stroke="#da3a30" stroke-width="1.2"/>
<path d="M425.2 678.7l3.1 3.1l-3.1 3.1l-3.1 -3.1z" fill="none" stroke="#da3a30" stroke-width="1.2"/>
<path d="M431.2 689.5l3.1 3.1l-3.1 3.1l-3.1 -3.1z" fill="none" stroke="#da3a30" stroke-width="1.2"/>
<path d="M437.5 692.2l3.1 3.1l-3.1 3.1l-3.1 -3.1z" fill="none" stroke="#da3a30" stroke-width="1.2"/>
<path d="M443.9 698.2l3.1 3.1l-3.1 3.1l-3.1 -3.1z" fill="none" stroke="#da3a30" stroke-width="1.2"/>
<path d="M450.5 708.6l3.1 3.1l-3.1 3.1l-3.1 -3.1z" fill="none" stroke="#da3a30" stroke-width="1.2"/>
<path d="M456.7 719.2l3.1 3.1l-3.1 3.1l-3.1 -3.1z" fill="none" stroke="#da3a30" stroke-width="1.2"/>
<path d="M462.9 714.6l3.1 3.1l-3.1 3.1l-3.1 -3.1z" fill="none" stroke="#da3a30" stroke-width="1.2"/>
<path d="M469.4 718.7l3.1 3.1l-3.1 3.1l-3.1 -3.1z" fill="none" stroke="#da3a30" stroke-width="1.2"/>
<path d="M475.6 729.4l3.1 3.1l-3.1 3.1l-3.1 -3.1z" fill="none" stroke="#da3a30" stroke-width="1.2"/>
<path d="M481.8 738.6l3.1 3.1l-3.1 3.1l-3.1 -3.1z" fill="none" stroke="#da3a30" stroke-width="1.2"/>
<path d="M488.2 741.3l3.1 3.1l-3.1 3.1l-3.1 -3.1z" fill="none" stroke="#da3a30" stroke-width="1.2"/>
<path d="M494.4 750.9l3.1 3.1l-3.1 3.1l-3.1 -3.1z" fill="none" stroke="#da3a30" stroke-width="1.2"/>
<path d="M500.9 759.6l3.1 3.1l-3.1 3.1l-3.1 -3.1z" fill="none" stroke="#da3a30" stroke-width="1.2"/>
<path d="M507.4 763.6l3.1 3.1l-3.1 3.1l-3.1 -3.1z" fill="none" stroke="#da3a30" stroke-width="1.2"/>
<path d="M513.5 784.4l3.1 3.1l-3.1 3.1l-3.1 -3.1z" fill="none" stroke="#da3a30" stroke-width="1.2"/>
<circle cx="73.9" cy="351" r="2.65" fill="#0d6e1d"/>
<circle cx="100.8" cy="376" r="2.65" fill="#0d6e1d"/>
<circle cx="119.3" cy="413.4" r="2.65" fill="#0d6e1d"/>
<circle cx="134.2" cy="443" r="2.65" fill="#0d6e1d"/>
<circle cx="146.3" cy="468.3" r="2.65" fill="#0d6e1d"/>
<circle cx="156.6" cy="490.6" r="2.65" fill="#0d6e1d"/>
<circle cx="165.5" cy="510" r="2.65" fill="#0d6e1d"/>
<circle cx="173.3" cy="524" r="2.65" fill="#0d6e1d"/>
<circle cx="180" cy="538" r="2.65" fill="#0d6e1d"/>
<circle cx="186.5" cy="546.1" r="2.65" fill="#0d6e1d"/>
<circle cx="192.3" cy="554.6" r="2.65" fill="#0d6e1d"/>
<circle cx="197.7" cy="559.2" r="2.65" fill="#0d6e1d"/>
<circle cx="202.3" cy="565" r="2.65" fill="#0d6e1d"/>
<circle cx="206.9" cy="568.5" r="2.65" fill="#0d6e1d"/>
<circle cx="211.2" cy="575.4" r="2.65" fill="#0d6e1d"/>
<circle cx="215.4" cy="578.5" r="2.65" fill="#0d6e1d"/>
<circle cx="218.8" cy="580.8" r="2.65" fill="#0d6e1d"/>
<circle cx="222.7" cy="584.6" r="2.65" fill="#0d6e1d"/>
<circle cx="227.4" cy="593" r="2.65" fill="#0d6e1d"/>
<circle cx="233.6" cy="598.2" r="2.65" fill="#0d6e1d"/>
<circle cx="239.6" cy="605.8" r="2.65" fill="#0d6e1d"/>
<circle cx="244.6" cy="614.8" r="2.65" fill="#0d6e1d"/>
<circle cx="249.4" cy="617.2" r="2.65" fill="#0d6e1d"/>
<circle cx="254" cy="625.8" r="2.65" fill="#0d6e1d"/>
<circle cx="258" cy="630.6" r="2.65" fill="#0d6e1d"/>
<circle cx="262" cy="634.4" r="2.65" fill="#0d6e1d"/>
<circle cx="265.6" cy="640.6" r="2.65" fill="#0d6e1d"/>
<circle cx="269.6" cy="640.6" r="2.65" fill="#0d6e1d"/>
<circle cx="273.7" cy="649.5" r="2.65" fill="#0d6e1d"/>
<circle cx="278.2" cy="652.2" r="2.65" fill="#0d6e1d"/>
<circle cx="282.5" cy="662.7" r="2.65" fill="#0d6e1d"/>
<circle cx="287.1" cy="667.5" r="2.65" fill="#0d6e1d"/>
<circle cx="290.6" cy="669.4" r="2.65" fill="#0d6e1d"/>
<circle cx="294.4" cy="675.6" r="2.65" fill="#0d6e1d"/>
<circle cx="297.6" cy="677" r="2.65" fill="#0d6e1d"/>
<circle cx="301.4" cy="686.4" r="2.65" fill="#0d6e1d"/>
<circle cx="305.3" cy="693.5" r="2.65" fill="#0d6e1d"/>
<circle cx="309.2" cy="698.6" r="2.65" fill="#0d6e1d"/>
<circle cx="312.8" cy="706.4" r="2.65" fill="#0d6e1d"/>
<circle cx="316.5" cy="712.3" r="2.65" fill="#0d6e1d"/>
<circle cx="320" cy="712.9" r="2.65" fill="#0d6e1d"/>
<circle cx="323.7" cy="721.7" r="2.65" fill="#0d6e1d"/>
<circle cx="327.5" cy="726.9" r="2.65" fill="#0d6e1d"/>
<circle cx="331.2" cy="733.3" r="2.65" fill="#0d6e1d"/>
<circle cx="334.6" cy="738.5" r="2.65" fill="#0d6e1d"/>
<circle cx="338.5" cy="746.3" r="2.65" fill="#0d6e1d"/>
<circle cx="341.5" cy="750.6" r="2.65" fill="#0d6e1d"/>
<circle cx="345.2" cy="752.5" r="2.65" fill="#0d6e1d"/>
<circle cx="348.7" cy="756.3" r="2.65" fill="#0d6e1d"/>
<circle cx="351.9" cy="762.1" r="2.65" fill="#0d6e1d"/>
<circle cx="355.4" cy="766.9" r="2.65" fill="#0d6e1d"/>
<circle cx="358.8" cy="776.9" r="2.65" fill="#0d6e1d"/>
<circle cx="362.5" cy="777.7" r="2.65" fill="#0d6e1d"/>
<circle cx="366" cy="780.4" r="2.65" fill="#0d6e1d"/>
<circle cx="369.2" cy="788.5" r="2.65" fill="#0d6e1d"/>
<circle cx="372.7" cy="792.9" r="2.65" fill="#0d6e1d"/>
<circle cx="376" cy="792.9" r="2.65" fill="#0d6e1d"/>
</g>
<path d="M57.4 795.4v-3.5M57.4 339.3v3.5M84.3 795.4v-3.5M84.3 339.3v3.5M103.3 795.4v-3.5M103.3 339.3v3.5M118.1 795.4v-3.5M118.1 339.3v3.5M130.2 795.4v-3.5M130.2 339.3v3.5M140.4 795.4v-3.5M140.4 339.3v3.5M149.2 795.4v-3.5M149.2 339.3v3.5M157 795.4v-3.5M157 339.3v3.5M164 795.4v-6M164 339.3v6M209.9 795.4v-3.5M209.9 339.3v3.5M236.8 795.4v-3.5M236.8 339.3v3.5M255.8 795.4v-3.5M255.8 339.3v3.5M270.6 795.4v-3.5M270.6 339.3v3.5M282.7 795.4v-3.5M282.7 339.3v3.5M292.9 795.4v-3.5M292.9 339.3v3.5M301.7 795.4v-3.5M301.7 339.3v3.5M309.5 795.4v-3.5M309.5 339.3v3.5M316.5 795.4v-6M316.5 339.3v6M362.4 795.4v-3.5M362.4 339.3v3.5M389.3 795.4v-3.5M389.3 339.3v3.5M408.3 795.4v-3.5M408.3 339.3v3.5M423.1 795.4v-3.5M423.1 339.3v3.5M435.2 795.4v-3.5M435.2 339.3v3.5M445.4 795.4v-3.5M445.4 339.3v3.5M454.2 795.4v-3.5M454.2 339.3v3.5M462 795.4v-3.5M462 339.3v3.5M469 795.4v-6M469 339.3v6M514.9 795.4v-3.5M514.9 339.3v3.5M57.5 762h3.5M513.9 762h-3.5M57.5 735.2h3.5M513.9 735.2h-3.5M57.5 716.2h3.5M513.9 716.2h-3.5M57.5 701.4h3.5M513.9 701.4h-3.5M57.5 689.4h3.5M513.9 689.4h-3.5M57.5 679.2h3.5M513.9 679.2h-3.5M57.5 670.3h3.5M513.9 670.3h-3.5M57.5 662.6h3.5M513.9 662.6h-3.5M57.5 655.6h6M513.9 655.6h-6M57.5 609.8h3.5M513.9 609.8h-3.5M57.5 583h3.5M513.9 583h-3.5M57.5 564h3.5M513.9 564h-3.5M57.5 549.2h3.5M513.9 549.2h-3.5M57.5 537.2h3.5M513.9 537.2h-3.5M57.5 527h3.5M513.9 527h-3.5M57.5 518.1h3.5M513.9 518.1h-3.5M57.5 510.4h3.5M513.9 510.4h-3.5M57.5 503.4h6M513.9 503.4h-6M57.5 457.6h3.5M513.9 457.6h-3.5M57.5 430.8h3.5M513.9 430.8h-3.5M57.5 411.8h3.5M513.9 411.8h-3.5M57.5 397h3.5M513.9 397h-3.5M57.5 385h3.5M513.9 385h-3.5M57.5 374.8h3.5M513.9 374.8h-3.5M57.5 365.9h3.5M513.9 365.9h-3.5M57.5 358.2h3.5M513.9 358.2h-3.5M57.5 351.2h6M513.9 351.2h-6" stroke="#2a2a2a" stroke-width="1.1" fill="none"/>
<rect x="57.5" y="339.3" width="456.4" height="456.09999999999997" fill="none" stroke="#2a2a2a" stroke-width="1.5"/>
<g font-family="'Liberation Sans', Arial, Helvetica, sans-serif" fill="#1a1a1a" stroke="#1a1a1a" stroke-width="0.3">
<text x="51.2" y="356.2" font-size="13" text-anchor="end">1</text>
<text x="39.6" y="509.2" font-size="13" text-anchor="end">10</text>
<text x="39.8" y="505.2" font-size="10.5">−1</text>
<text x="39.6" y="661.4" font-size="13" text-anchor="end">10</text>
<text x="39.8" y="657.4" font-size="10.5">−2</text>
<text x="167" y="814.3" font-size="13" text-anchor="end">10</text>
<text x="167.8" y="809.6" font-size="10.5">0</text>
<text x="319.5" y="814.3" font-size="13" text-anchor="end">10</text>
<text x="320.3" y="809.6" font-size="10.5">1</text>
<text x="472" y="814.3" font-size="13" text-anchor="end">10</text>
<text x="472.8" y="809.6" font-size="10.5">2</text>
<text x="257.2" y="830" font-size="13.7" xml:space="preserve">time  (ns)</text>
<text transform="translate(14.3 567.8) rotate(-90)" font-size="13.7" text-anchor="middle" xml:space="preserve">Fluorescence intensity  (normalized)</text>
</g>
</svg>
</body></html>
